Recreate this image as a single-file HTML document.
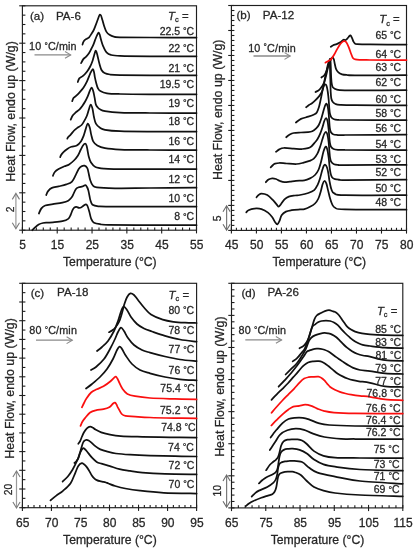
<!DOCTYPE html>
<html><head><meta charset="utf-8"><title>DSC</title>
<style>html,body{margin:0;padding:0;background:#fff;}svg{display:block;}</style>
</head><body>
<svg width="418" height="550" viewBox="0 0 418 550" font-family="Liberation Sans, Arial, sans-serif" fill="#262626">
<style>text{stroke:#262626;stroke-width:0.28px;paint-order:stroke}</style>
<rect width="418" height="550" fill="#ffffff"/>
<rect x="22.4" y="5.8" width="174.1" height="224.4" fill="none" stroke="#1e1e1e" stroke-width="1.15"/>
<line x1="22.4" y1="227.2" x2="22.4" y2="233.4" stroke="#1e1e1e" stroke-width="1.1"/>
<line x1="29.36" y1="227.6" x2="29.36" y2="230.2" stroke="#1e1e1e" stroke-width="1.1"/>
<line x1="36.33" y1="227.6" x2="36.33" y2="230.2" stroke="#1e1e1e" stroke-width="1.1"/>
<line x1="43.29" y1="227.6" x2="43.29" y2="230.2" stroke="#1e1e1e" stroke-width="1.1"/>
<line x1="50.26" y1="227.6" x2="50.26" y2="230.2" stroke="#1e1e1e" stroke-width="1.1"/>
<line x1="57.22" y1="227.2" x2="57.22" y2="233.4" stroke="#1e1e1e" stroke-width="1.1"/>
<line x1="64.18" y1="227.6" x2="64.18" y2="230.2" stroke="#1e1e1e" stroke-width="1.1"/>
<line x1="71.15" y1="227.6" x2="71.15" y2="230.2" stroke="#1e1e1e" stroke-width="1.1"/>
<line x1="78.11" y1="227.6" x2="78.11" y2="230.2" stroke="#1e1e1e" stroke-width="1.1"/>
<line x1="85.08" y1="227.6" x2="85.08" y2="230.2" stroke="#1e1e1e" stroke-width="1.1"/>
<line x1="92.04" y1="227.2" x2="92.04" y2="233.4" stroke="#1e1e1e" stroke-width="1.1"/>
<line x1="99" y1="227.6" x2="99" y2="230.2" stroke="#1e1e1e" stroke-width="1.1"/>
<line x1="105.97" y1="227.6" x2="105.97" y2="230.2" stroke="#1e1e1e" stroke-width="1.1"/>
<line x1="112.93" y1="227.6" x2="112.93" y2="230.2" stroke="#1e1e1e" stroke-width="1.1"/>
<line x1="119.9" y1="227.6" x2="119.9" y2="230.2" stroke="#1e1e1e" stroke-width="1.1"/>
<line x1="126.86" y1="227.2" x2="126.86" y2="233.4" stroke="#1e1e1e" stroke-width="1.1"/>
<line x1="133.82" y1="227.6" x2="133.82" y2="230.2" stroke="#1e1e1e" stroke-width="1.1"/>
<line x1="140.79" y1="227.6" x2="140.79" y2="230.2" stroke="#1e1e1e" stroke-width="1.1"/>
<line x1="147.75" y1="227.6" x2="147.75" y2="230.2" stroke="#1e1e1e" stroke-width="1.1"/>
<line x1="154.72" y1="227.6" x2="154.72" y2="230.2" stroke="#1e1e1e" stroke-width="1.1"/>
<line x1="161.68" y1="227.2" x2="161.68" y2="233.4" stroke="#1e1e1e" stroke-width="1.1"/>
<line x1="168.64" y1="227.6" x2="168.64" y2="230.2" stroke="#1e1e1e" stroke-width="1.1"/>
<line x1="175.61" y1="227.6" x2="175.61" y2="230.2" stroke="#1e1e1e" stroke-width="1.1"/>
<line x1="182.57" y1="227.6" x2="182.57" y2="230.2" stroke="#1e1e1e" stroke-width="1.1"/>
<line x1="189.54" y1="227.6" x2="189.54" y2="230.2" stroke="#1e1e1e" stroke-width="1.1"/>
<line x1="196.5" y1="227.2" x2="196.5" y2="233.4" stroke="#1e1e1e" stroke-width="1.1"/>
<text x="22.7" y="249.1" font-size="12" text-anchor="middle">5</text>
<text x="57.52" y="249.1" font-size="12" text-anchor="middle">15</text>
<text x="92.34" y="249.1" font-size="12" text-anchor="middle">25</text>
<text x="127.16" y="249.1" font-size="12" text-anchor="middle">35</text>
<text x="161.98" y="249.1" font-size="12" text-anchor="middle">45</text>
<text x="196.8" y="249.1" font-size="12" text-anchor="middle">55</text>
<line x1="19.2" y1="5.8" x2="25.4" y2="5.8" stroke="#1e1e1e" stroke-width="1.1"/>
<line x1="22.4" y1="15.15" x2="25.4" y2="15.15" stroke="#1e1e1e" stroke-width="1.1"/>
<line x1="22.4" y1="24.5" x2="25.4" y2="24.5" stroke="#1e1e1e" stroke-width="1.1"/>
<line x1="22.4" y1="33.85" x2="25.4" y2="33.85" stroke="#1e1e1e" stroke-width="1.1"/>
<line x1="19.2" y1="43.2" x2="25.4" y2="43.2" stroke="#1e1e1e" stroke-width="1.1"/>
<line x1="22.4" y1="52.55" x2="25.4" y2="52.55" stroke="#1e1e1e" stroke-width="1.1"/>
<line x1="22.4" y1="61.9" x2="25.4" y2="61.9" stroke="#1e1e1e" stroke-width="1.1"/>
<line x1="22.4" y1="71.25" x2="25.4" y2="71.25" stroke="#1e1e1e" stroke-width="1.1"/>
<line x1="19.2" y1="80.6" x2="25.4" y2="80.6" stroke="#1e1e1e" stroke-width="1.1"/>
<line x1="22.4" y1="89.95" x2="25.4" y2="89.95" stroke="#1e1e1e" stroke-width="1.1"/>
<line x1="22.4" y1="99.3" x2="25.4" y2="99.3" stroke="#1e1e1e" stroke-width="1.1"/>
<line x1="22.4" y1="108.65" x2="25.4" y2="108.65" stroke="#1e1e1e" stroke-width="1.1"/>
<line x1="19.2" y1="118" x2="25.4" y2="118" stroke="#1e1e1e" stroke-width="1.1"/>
<line x1="22.4" y1="127.35" x2="25.4" y2="127.35" stroke="#1e1e1e" stroke-width="1.1"/>
<line x1="22.4" y1="136.7" x2="25.4" y2="136.7" stroke="#1e1e1e" stroke-width="1.1"/>
<line x1="22.4" y1="146.05" x2="25.4" y2="146.05" stroke="#1e1e1e" stroke-width="1.1"/>
<line x1="19.2" y1="155.4" x2="25.4" y2="155.4" stroke="#1e1e1e" stroke-width="1.1"/>
<line x1="22.4" y1="164.75" x2="25.4" y2="164.75" stroke="#1e1e1e" stroke-width="1.1"/>
<line x1="22.4" y1="174.1" x2="25.4" y2="174.1" stroke="#1e1e1e" stroke-width="1.1"/>
<line x1="22.4" y1="183.45" x2="25.4" y2="183.45" stroke="#1e1e1e" stroke-width="1.1"/>
<line x1="19.2" y1="192.8" x2="25.4" y2="192.8" stroke="#1e1e1e" stroke-width="1.1"/>
<line x1="22.4" y1="202.15" x2="25.4" y2="202.15" stroke="#1e1e1e" stroke-width="1.1"/>
<line x1="22.4" y1="211.5" x2="25.4" y2="211.5" stroke="#1e1e1e" stroke-width="1.1"/>
<line x1="22.4" y1="220.85" x2="25.4" y2="220.85" stroke="#1e1e1e" stroke-width="1.1"/>
<line x1="19.2" y1="230.2" x2="25.4" y2="230.2" stroke="#1e1e1e" stroke-width="1.1"/>
<text x="109.85" y="266" font-size="12.2" text-anchor="middle">Temperature (°C)</text>
<text x="0" y="0" font-size="12.4" text-anchor="middle" transform="translate(15.3,111.4) rotate(-90)">Heat Flow, endo up (W/g)</text>
<line x1="15.9" y1="193.9" x2="15.9" y2="228.3" stroke="#9a9a9a" stroke-width="1.2"/>
<polyline points="12.3,199.4 15.9,193.4 19.5,199.4" fill="none" stroke="#7a7a7a" stroke-width="1.1"/>
<polyline points="12.3,222.8 15.9,228.8 19.5,222.8" fill="none" stroke="#7a7a7a" stroke-width="1.1"/>
<text x="0" y="0" font-size="10.3" text-anchor="middle" transform="translate(13.7,209.5) rotate(-90)">2</text>
<text x="29.9" y="20" font-size="11.6" text-anchor="start">(a)</text>
<text x="56" y="20" font-size="11.6" text-anchor="start">PA-6</text>
<text x="29" y="50" font-size="10.8" textLength="47.6">10 <tspan font-size="8.4" dy="-1.1">°</tspan><tspan dy="1.1">C/min</tspan></text>
<line x1="34.5" y1="54.9" x2="70.7" y2="54.9" stroke="#8a8a8a" stroke-width="1.3"/>
<polyline points="65,51.5 70.7,54.9 65,58.3" fill="none" stroke="#8a8a8a" stroke-width="1.1"/>
<text x="188.6" y="19.5" font-size="11.4" text-anchor="end"><tspan font-style="italic">T</tspan><tspan font-size="7.4" dy="2.4">c</tspan><tspan dy="-2.4"> =</tspan></text>
<rect x="231.4" y="5.5" width="175.1" height="224.9" fill="none" stroke="#1e1e1e" stroke-width="1.15"/>
<line x1="231.4" y1="227.4" x2="231.4" y2="233.6" stroke="#1e1e1e" stroke-width="1.1"/>
<line x1="236.4" y1="227.8" x2="236.4" y2="230.4" stroke="#1e1e1e" stroke-width="1.1"/>
<line x1="241.41" y1="227.8" x2="241.41" y2="230.4" stroke="#1e1e1e" stroke-width="1.1"/>
<line x1="246.41" y1="227.8" x2="246.41" y2="230.4" stroke="#1e1e1e" stroke-width="1.1"/>
<line x1="251.41" y1="227.8" x2="251.41" y2="230.4" stroke="#1e1e1e" stroke-width="1.1"/>
<line x1="256.41" y1="227.4" x2="256.41" y2="233.6" stroke="#1e1e1e" stroke-width="1.1"/>
<line x1="261.42" y1="227.8" x2="261.42" y2="230.4" stroke="#1e1e1e" stroke-width="1.1"/>
<line x1="266.42" y1="227.8" x2="266.42" y2="230.4" stroke="#1e1e1e" stroke-width="1.1"/>
<line x1="271.42" y1="227.8" x2="271.42" y2="230.4" stroke="#1e1e1e" stroke-width="1.1"/>
<line x1="276.43" y1="227.8" x2="276.43" y2="230.4" stroke="#1e1e1e" stroke-width="1.1"/>
<line x1="281.43" y1="227.4" x2="281.43" y2="233.6" stroke="#1e1e1e" stroke-width="1.1"/>
<line x1="286.43" y1="227.8" x2="286.43" y2="230.4" stroke="#1e1e1e" stroke-width="1.1"/>
<line x1="291.43" y1="227.8" x2="291.43" y2="230.4" stroke="#1e1e1e" stroke-width="1.1"/>
<line x1="296.44" y1="227.8" x2="296.44" y2="230.4" stroke="#1e1e1e" stroke-width="1.1"/>
<line x1="301.44" y1="227.8" x2="301.44" y2="230.4" stroke="#1e1e1e" stroke-width="1.1"/>
<line x1="306.44" y1="227.4" x2="306.44" y2="233.6" stroke="#1e1e1e" stroke-width="1.1"/>
<line x1="311.45" y1="227.8" x2="311.45" y2="230.4" stroke="#1e1e1e" stroke-width="1.1"/>
<line x1="316.45" y1="227.8" x2="316.45" y2="230.4" stroke="#1e1e1e" stroke-width="1.1"/>
<line x1="321.45" y1="227.8" x2="321.45" y2="230.4" stroke="#1e1e1e" stroke-width="1.1"/>
<line x1="326.45" y1="227.8" x2="326.45" y2="230.4" stroke="#1e1e1e" stroke-width="1.1"/>
<line x1="331.46" y1="227.4" x2="331.46" y2="233.6" stroke="#1e1e1e" stroke-width="1.1"/>
<line x1="336.46" y1="227.8" x2="336.46" y2="230.4" stroke="#1e1e1e" stroke-width="1.1"/>
<line x1="341.46" y1="227.8" x2="341.46" y2="230.4" stroke="#1e1e1e" stroke-width="1.1"/>
<line x1="346.47" y1="227.8" x2="346.47" y2="230.4" stroke="#1e1e1e" stroke-width="1.1"/>
<line x1="351.47" y1="227.8" x2="351.47" y2="230.4" stroke="#1e1e1e" stroke-width="1.1"/>
<line x1="356.47" y1="227.4" x2="356.47" y2="233.6" stroke="#1e1e1e" stroke-width="1.1"/>
<line x1="361.47" y1="227.8" x2="361.47" y2="230.4" stroke="#1e1e1e" stroke-width="1.1"/>
<line x1="366.48" y1="227.8" x2="366.48" y2="230.4" stroke="#1e1e1e" stroke-width="1.1"/>
<line x1="371.48" y1="227.8" x2="371.48" y2="230.4" stroke="#1e1e1e" stroke-width="1.1"/>
<line x1="376.48" y1="227.8" x2="376.48" y2="230.4" stroke="#1e1e1e" stroke-width="1.1"/>
<line x1="381.49" y1="227.4" x2="381.49" y2="233.6" stroke="#1e1e1e" stroke-width="1.1"/>
<line x1="386.49" y1="227.8" x2="386.49" y2="230.4" stroke="#1e1e1e" stroke-width="1.1"/>
<line x1="391.49" y1="227.8" x2="391.49" y2="230.4" stroke="#1e1e1e" stroke-width="1.1"/>
<line x1="396.49" y1="227.8" x2="396.49" y2="230.4" stroke="#1e1e1e" stroke-width="1.1"/>
<line x1="401.5" y1="227.8" x2="401.5" y2="230.4" stroke="#1e1e1e" stroke-width="1.1"/>
<line x1="406.5" y1="227.4" x2="406.5" y2="233.6" stroke="#1e1e1e" stroke-width="1.1"/>
<text x="231.7" y="249.3" font-size="12" text-anchor="middle">45</text>
<text x="256.71" y="249.3" font-size="12" text-anchor="middle">50</text>
<text x="281.73" y="249.3" font-size="12" text-anchor="middle">55</text>
<text x="306.74" y="249.3" font-size="12" text-anchor="middle">60</text>
<text x="331.76" y="249.3" font-size="12" text-anchor="middle">65</text>
<text x="356.77" y="249.3" font-size="12" text-anchor="middle">70</text>
<text x="381.79" y="249.3" font-size="12" text-anchor="middle">75</text>
<text x="406.8" y="249.3" font-size="12" text-anchor="middle">80</text>
<line x1="228.2" y1="5.5" x2="234.4" y2="5.5" stroke="#1e1e1e" stroke-width="1.1"/>
<line x1="231.4" y1="10.5" x2="234.4" y2="10.5" stroke="#1e1e1e" stroke-width="1.1"/>
<line x1="231.4" y1="15.5" x2="234.4" y2="15.5" stroke="#1e1e1e" stroke-width="1.1"/>
<line x1="231.4" y1="20.49" x2="234.4" y2="20.49" stroke="#1e1e1e" stroke-width="1.1"/>
<line x1="231.4" y1="25.49" x2="234.4" y2="25.49" stroke="#1e1e1e" stroke-width="1.1"/>
<line x1="228.2" y1="30.49" x2="234.4" y2="30.49" stroke="#1e1e1e" stroke-width="1.1"/>
<line x1="231.4" y1="35.49" x2="234.4" y2="35.49" stroke="#1e1e1e" stroke-width="1.1"/>
<line x1="231.4" y1="40.48" x2="234.4" y2="40.48" stroke="#1e1e1e" stroke-width="1.1"/>
<line x1="231.4" y1="45.48" x2="234.4" y2="45.48" stroke="#1e1e1e" stroke-width="1.1"/>
<line x1="231.4" y1="50.48" x2="234.4" y2="50.48" stroke="#1e1e1e" stroke-width="1.1"/>
<line x1="228.2" y1="55.48" x2="234.4" y2="55.48" stroke="#1e1e1e" stroke-width="1.1"/>
<line x1="231.4" y1="60.48" x2="234.4" y2="60.48" stroke="#1e1e1e" stroke-width="1.1"/>
<line x1="231.4" y1="65.47" x2="234.4" y2="65.47" stroke="#1e1e1e" stroke-width="1.1"/>
<line x1="231.4" y1="70.47" x2="234.4" y2="70.47" stroke="#1e1e1e" stroke-width="1.1"/>
<line x1="231.4" y1="75.47" x2="234.4" y2="75.47" stroke="#1e1e1e" stroke-width="1.1"/>
<line x1="228.2" y1="80.47" x2="234.4" y2="80.47" stroke="#1e1e1e" stroke-width="1.1"/>
<line x1="231.4" y1="85.46" x2="234.4" y2="85.46" stroke="#1e1e1e" stroke-width="1.1"/>
<line x1="231.4" y1="90.46" x2="234.4" y2="90.46" stroke="#1e1e1e" stroke-width="1.1"/>
<line x1="231.4" y1="95.46" x2="234.4" y2="95.46" stroke="#1e1e1e" stroke-width="1.1"/>
<line x1="231.4" y1="100.46" x2="234.4" y2="100.46" stroke="#1e1e1e" stroke-width="1.1"/>
<line x1="228.2" y1="105.46" x2="234.4" y2="105.46" stroke="#1e1e1e" stroke-width="1.1"/>
<line x1="231.4" y1="110.45" x2="234.4" y2="110.45" stroke="#1e1e1e" stroke-width="1.1"/>
<line x1="231.4" y1="115.45" x2="234.4" y2="115.45" stroke="#1e1e1e" stroke-width="1.1"/>
<line x1="231.4" y1="120.45" x2="234.4" y2="120.45" stroke="#1e1e1e" stroke-width="1.1"/>
<line x1="231.4" y1="125.45" x2="234.4" y2="125.45" stroke="#1e1e1e" stroke-width="1.1"/>
<line x1="228.2" y1="130.44" x2="234.4" y2="130.44" stroke="#1e1e1e" stroke-width="1.1"/>
<line x1="231.4" y1="135.44" x2="234.4" y2="135.44" stroke="#1e1e1e" stroke-width="1.1"/>
<line x1="231.4" y1="140.44" x2="234.4" y2="140.44" stroke="#1e1e1e" stroke-width="1.1"/>
<line x1="231.4" y1="145.44" x2="234.4" y2="145.44" stroke="#1e1e1e" stroke-width="1.1"/>
<line x1="231.4" y1="150.44" x2="234.4" y2="150.44" stroke="#1e1e1e" stroke-width="1.1"/>
<line x1="228.2" y1="155.43" x2="234.4" y2="155.43" stroke="#1e1e1e" stroke-width="1.1"/>
<line x1="231.4" y1="160.43" x2="234.4" y2="160.43" stroke="#1e1e1e" stroke-width="1.1"/>
<line x1="231.4" y1="165.43" x2="234.4" y2="165.43" stroke="#1e1e1e" stroke-width="1.1"/>
<line x1="231.4" y1="170.43" x2="234.4" y2="170.43" stroke="#1e1e1e" stroke-width="1.1"/>
<line x1="231.4" y1="175.42" x2="234.4" y2="175.42" stroke="#1e1e1e" stroke-width="1.1"/>
<line x1="228.2" y1="180.42" x2="234.4" y2="180.42" stroke="#1e1e1e" stroke-width="1.1"/>
<line x1="231.4" y1="185.42" x2="234.4" y2="185.42" stroke="#1e1e1e" stroke-width="1.1"/>
<line x1="231.4" y1="190.42" x2="234.4" y2="190.42" stroke="#1e1e1e" stroke-width="1.1"/>
<line x1="231.4" y1="195.42" x2="234.4" y2="195.42" stroke="#1e1e1e" stroke-width="1.1"/>
<line x1="231.4" y1="200.41" x2="234.4" y2="200.41" stroke="#1e1e1e" stroke-width="1.1"/>
<line x1="228.2" y1="205.41" x2="234.4" y2="205.41" stroke="#1e1e1e" stroke-width="1.1"/>
<line x1="231.4" y1="210.41" x2="234.4" y2="210.41" stroke="#1e1e1e" stroke-width="1.1"/>
<line x1="231.4" y1="215.41" x2="234.4" y2="215.41" stroke="#1e1e1e" stroke-width="1.1"/>
<line x1="231.4" y1="220.4" x2="234.4" y2="220.4" stroke="#1e1e1e" stroke-width="1.1"/>
<line x1="231.4" y1="225.4" x2="234.4" y2="225.4" stroke="#1e1e1e" stroke-width="1.1"/>
<line x1="228.2" y1="230.4" x2="234.4" y2="230.4" stroke="#1e1e1e" stroke-width="1.1"/>
<text x="319.35" y="266.2" font-size="12.2" text-anchor="middle">Temperature (°C)</text>
<text x="0" y="0" font-size="12.4" text-anchor="middle" transform="translate(221.8,109.8) rotate(-90)">Heat Flow, endo up (W/g)</text>
<line x1="226.6" y1="206.2" x2="226.6" y2="229.7" stroke="#7a7a7a" stroke-width="1.2"/>
<polyline points="223,211.7 226.6,205.7 230.2,211.7" fill="none" stroke="#6a6a6a" stroke-width="1.1"/>
<polyline points="223,224.2 226.6,230.2 230.2,224.2" fill="none" stroke="#6a6a6a" stroke-width="1.1"/>
<text x="0" y="0" font-size="10.3" text-anchor="middle" transform="translate(220.6,218.5) rotate(-90)">5</text>
<text x="236.4" y="19.4" font-size="11.6" text-anchor="start">(b)</text>
<text x="262.8" y="19.1" font-size="11.6" text-anchor="start">PA-12</text>
<text x="248.2" y="51.5" font-size="10.8" textLength="47.6">10 <tspan font-size="8.4" dy="-1.1">°</tspan><tspan dy="1.1">C/min</tspan></text>
<line x1="253.5" y1="56" x2="290.2" y2="56" stroke="#8a8a8a" stroke-width="1.3"/>
<polyline points="284.5,52.6 290.2,56 284.5,59.4" fill="none" stroke="#8a8a8a" stroke-width="1.1"/>
<text x="399.7" y="23.3" font-size="11.4" text-anchor="end"><tspan font-style="italic">T</tspan><tspan font-size="7.4" dy="2.4">c</tspan><tspan dy="-2.4"> =</tspan></text>
<rect x="22.4" y="283.3" width="174.2" height="224.4" fill="none" stroke="#1e1e1e" stroke-width="1.15"/>
<line x1="22.4" y1="504.7" x2="22.4" y2="510.9" stroke="#1e1e1e" stroke-width="1.1"/>
<line x1="28.21" y1="505.1" x2="28.21" y2="507.7" stroke="#1e1e1e" stroke-width="1.1"/>
<line x1="34.01" y1="505.1" x2="34.01" y2="507.7" stroke="#1e1e1e" stroke-width="1.1"/>
<line x1="39.82" y1="505.1" x2="39.82" y2="507.7" stroke="#1e1e1e" stroke-width="1.1"/>
<line x1="45.63" y1="505.1" x2="45.63" y2="507.7" stroke="#1e1e1e" stroke-width="1.1"/>
<line x1="51.43" y1="504.7" x2="51.43" y2="510.9" stroke="#1e1e1e" stroke-width="1.1"/>
<line x1="57.24" y1="505.1" x2="57.24" y2="507.7" stroke="#1e1e1e" stroke-width="1.1"/>
<line x1="63.05" y1="505.1" x2="63.05" y2="507.7" stroke="#1e1e1e" stroke-width="1.1"/>
<line x1="68.85" y1="505.1" x2="68.85" y2="507.7" stroke="#1e1e1e" stroke-width="1.1"/>
<line x1="74.66" y1="505.1" x2="74.66" y2="507.7" stroke="#1e1e1e" stroke-width="1.1"/>
<line x1="80.47" y1="504.7" x2="80.47" y2="510.9" stroke="#1e1e1e" stroke-width="1.1"/>
<line x1="86.27" y1="505.1" x2="86.27" y2="507.7" stroke="#1e1e1e" stroke-width="1.1"/>
<line x1="92.08" y1="505.1" x2="92.08" y2="507.7" stroke="#1e1e1e" stroke-width="1.1"/>
<line x1="97.89" y1="505.1" x2="97.89" y2="507.7" stroke="#1e1e1e" stroke-width="1.1"/>
<line x1="103.69" y1="505.1" x2="103.69" y2="507.7" stroke="#1e1e1e" stroke-width="1.1"/>
<line x1="109.5" y1="504.7" x2="109.5" y2="510.9" stroke="#1e1e1e" stroke-width="1.1"/>
<line x1="115.31" y1="505.1" x2="115.31" y2="507.7" stroke="#1e1e1e" stroke-width="1.1"/>
<line x1="121.11" y1="505.1" x2="121.11" y2="507.7" stroke="#1e1e1e" stroke-width="1.1"/>
<line x1="126.92" y1="505.1" x2="126.92" y2="507.7" stroke="#1e1e1e" stroke-width="1.1"/>
<line x1="132.73" y1="505.1" x2="132.73" y2="507.7" stroke="#1e1e1e" stroke-width="1.1"/>
<line x1="138.53" y1="504.7" x2="138.53" y2="510.9" stroke="#1e1e1e" stroke-width="1.1"/>
<line x1="144.34" y1="505.1" x2="144.34" y2="507.7" stroke="#1e1e1e" stroke-width="1.1"/>
<line x1="150.15" y1="505.1" x2="150.15" y2="507.7" stroke="#1e1e1e" stroke-width="1.1"/>
<line x1="155.95" y1="505.1" x2="155.95" y2="507.7" stroke="#1e1e1e" stroke-width="1.1"/>
<line x1="161.76" y1="505.1" x2="161.76" y2="507.7" stroke="#1e1e1e" stroke-width="1.1"/>
<line x1="167.57" y1="504.7" x2="167.57" y2="510.9" stroke="#1e1e1e" stroke-width="1.1"/>
<line x1="173.37" y1="505.1" x2="173.37" y2="507.7" stroke="#1e1e1e" stroke-width="1.1"/>
<line x1="179.18" y1="505.1" x2="179.18" y2="507.7" stroke="#1e1e1e" stroke-width="1.1"/>
<line x1="184.99" y1="505.1" x2="184.99" y2="507.7" stroke="#1e1e1e" stroke-width="1.1"/>
<line x1="190.79" y1="505.1" x2="190.79" y2="507.7" stroke="#1e1e1e" stroke-width="1.1"/>
<line x1="196.6" y1="504.7" x2="196.6" y2="510.9" stroke="#1e1e1e" stroke-width="1.1"/>
<text x="22.7" y="526.6" font-size="12" text-anchor="middle">65</text>
<text x="51.73" y="526.6" font-size="12" text-anchor="middle">70</text>
<text x="80.77" y="526.6" font-size="12" text-anchor="middle">75</text>
<text x="109.8" y="526.6" font-size="12" text-anchor="middle">80</text>
<text x="138.83" y="526.6" font-size="12" text-anchor="middle">85</text>
<text x="167.87" y="526.6" font-size="12" text-anchor="middle">90</text>
<text x="196.9" y="526.6" font-size="12" text-anchor="middle">95</text>
<line x1="19.2" y1="283.3" x2="25.4" y2="283.3" stroke="#1e1e1e" stroke-width="1.1"/>
<line x1="22.4" y1="292.65" x2="25.4" y2="292.65" stroke="#1e1e1e" stroke-width="1.1"/>
<line x1="19.2" y1="302" x2="25.4" y2="302" stroke="#1e1e1e" stroke-width="1.1"/>
<line x1="22.4" y1="311.35" x2="25.4" y2="311.35" stroke="#1e1e1e" stroke-width="1.1"/>
<line x1="19.2" y1="320.7" x2="25.4" y2="320.7" stroke="#1e1e1e" stroke-width="1.1"/>
<line x1="22.4" y1="330.05" x2="25.4" y2="330.05" stroke="#1e1e1e" stroke-width="1.1"/>
<line x1="19.2" y1="339.4" x2="25.4" y2="339.4" stroke="#1e1e1e" stroke-width="1.1"/>
<line x1="22.4" y1="348.75" x2="25.4" y2="348.75" stroke="#1e1e1e" stroke-width="1.1"/>
<line x1="19.2" y1="358.1" x2="25.4" y2="358.1" stroke="#1e1e1e" stroke-width="1.1"/>
<line x1="22.4" y1="367.45" x2="25.4" y2="367.45" stroke="#1e1e1e" stroke-width="1.1"/>
<line x1="19.2" y1="376.8" x2="25.4" y2="376.8" stroke="#1e1e1e" stroke-width="1.1"/>
<line x1="22.4" y1="386.15" x2="25.4" y2="386.15" stroke="#1e1e1e" stroke-width="1.1"/>
<line x1="19.2" y1="395.5" x2="25.4" y2="395.5" stroke="#1e1e1e" stroke-width="1.1"/>
<line x1="22.4" y1="404.85" x2="25.4" y2="404.85" stroke="#1e1e1e" stroke-width="1.1"/>
<line x1="19.2" y1="414.2" x2="25.4" y2="414.2" stroke="#1e1e1e" stroke-width="1.1"/>
<line x1="22.4" y1="423.55" x2="25.4" y2="423.55" stroke="#1e1e1e" stroke-width="1.1"/>
<line x1="19.2" y1="432.9" x2="25.4" y2="432.9" stroke="#1e1e1e" stroke-width="1.1"/>
<line x1="22.4" y1="442.25" x2="25.4" y2="442.25" stroke="#1e1e1e" stroke-width="1.1"/>
<line x1="19.2" y1="451.6" x2="25.4" y2="451.6" stroke="#1e1e1e" stroke-width="1.1"/>
<line x1="22.4" y1="460.95" x2="25.4" y2="460.95" stroke="#1e1e1e" stroke-width="1.1"/>
<line x1="19.2" y1="470.3" x2="25.4" y2="470.3" stroke="#1e1e1e" stroke-width="1.1"/>
<line x1="22.4" y1="479.65" x2="25.4" y2="479.65" stroke="#1e1e1e" stroke-width="1.1"/>
<line x1="19.2" y1="489" x2="25.4" y2="489" stroke="#1e1e1e" stroke-width="1.1"/>
<line x1="22.4" y1="498.35" x2="25.4" y2="498.35" stroke="#1e1e1e" stroke-width="1.1"/>
<line x1="19.2" y1="507.7" x2="25.4" y2="507.7" stroke="#1e1e1e" stroke-width="1.1"/>
<text x="109.9" y="543.5" font-size="12.2" text-anchor="middle">Temperature (°C)</text>
<text x="0" y="0" font-size="12.4" text-anchor="middle" transform="translate(14.3,388.4) rotate(-90)">Heat Flow, endo up (W/g)</text>
<line x1="16.5" y1="471.5" x2="16.5" y2="507.5" stroke="#9a9a9a" stroke-width="1.2"/>
<polyline points="12.9,477 16.5,471 20.1,477" fill="none" stroke="#7a7a7a" stroke-width="1.1"/>
<polyline points="12.9,502 16.5,508 20.1,502" fill="none" stroke="#7a7a7a" stroke-width="1.1"/>
<text x="0" y="0" font-size="10.3" text-anchor="middle" transform="translate(11.9,489.5) rotate(-90)">20</text>
<text x="30.7" y="296.5" font-size="11.6" text-anchor="start">(c)</text>
<text x="57.1" y="296.3" font-size="11.6" text-anchor="start">PA-18</text>
<text x="29.3" y="334.3" font-size="10.8" textLength="47.6">80 <tspan font-size="8.4" dy="-1.1">°</tspan><tspan dy="1.1">C/min</tspan></text>
<line x1="36" y1="340.2" x2="72.3" y2="340.2" stroke="#8a8a8a" stroke-width="1.3"/>
<polyline points="66.6,336.8 72.3,340.2 66.6,343.6" fill="none" stroke="#8a8a8a" stroke-width="1.1"/>
<text x="189.1" y="298.8" font-size="11.4" text-anchor="end"><tspan font-style="italic">T</tspan><tspan font-size="7.4" dy="2.4">c</tspan><tspan dy="-2.4"> =</tspan></text>
<rect x="231.5" y="283.3" width="171.3" height="224.6" fill="none" stroke="#1e1e1e" stroke-width="1.15"/>
<line x1="231.5" y1="504.9" x2="231.5" y2="511.1" stroke="#1e1e1e" stroke-width="1.1"/>
<line x1="238.35" y1="505.3" x2="238.35" y2="507.9" stroke="#1e1e1e" stroke-width="1.1"/>
<line x1="245.2" y1="505.3" x2="245.2" y2="507.9" stroke="#1e1e1e" stroke-width="1.1"/>
<line x1="252.06" y1="505.3" x2="252.06" y2="507.9" stroke="#1e1e1e" stroke-width="1.1"/>
<line x1="258.91" y1="505.3" x2="258.91" y2="507.9" stroke="#1e1e1e" stroke-width="1.1"/>
<line x1="265.76" y1="504.9" x2="265.76" y2="511.1" stroke="#1e1e1e" stroke-width="1.1"/>
<line x1="272.61" y1="505.3" x2="272.61" y2="507.9" stroke="#1e1e1e" stroke-width="1.1"/>
<line x1="279.46" y1="505.3" x2="279.46" y2="507.9" stroke="#1e1e1e" stroke-width="1.1"/>
<line x1="286.32" y1="505.3" x2="286.32" y2="507.9" stroke="#1e1e1e" stroke-width="1.1"/>
<line x1="293.17" y1="505.3" x2="293.17" y2="507.9" stroke="#1e1e1e" stroke-width="1.1"/>
<line x1="300.02" y1="504.9" x2="300.02" y2="511.1" stroke="#1e1e1e" stroke-width="1.1"/>
<line x1="306.87" y1="505.3" x2="306.87" y2="507.9" stroke="#1e1e1e" stroke-width="1.1"/>
<line x1="313.72" y1="505.3" x2="313.72" y2="507.9" stroke="#1e1e1e" stroke-width="1.1"/>
<line x1="320.58" y1="505.3" x2="320.58" y2="507.9" stroke="#1e1e1e" stroke-width="1.1"/>
<line x1="327.43" y1="505.3" x2="327.43" y2="507.9" stroke="#1e1e1e" stroke-width="1.1"/>
<line x1="334.28" y1="504.9" x2="334.28" y2="511.1" stroke="#1e1e1e" stroke-width="1.1"/>
<line x1="341.13" y1="505.3" x2="341.13" y2="507.9" stroke="#1e1e1e" stroke-width="1.1"/>
<line x1="347.98" y1="505.3" x2="347.98" y2="507.9" stroke="#1e1e1e" stroke-width="1.1"/>
<line x1="354.84" y1="505.3" x2="354.84" y2="507.9" stroke="#1e1e1e" stroke-width="1.1"/>
<line x1="361.69" y1="505.3" x2="361.69" y2="507.9" stroke="#1e1e1e" stroke-width="1.1"/>
<line x1="368.54" y1="504.9" x2="368.54" y2="511.1" stroke="#1e1e1e" stroke-width="1.1"/>
<line x1="375.39" y1="505.3" x2="375.39" y2="507.9" stroke="#1e1e1e" stroke-width="1.1"/>
<line x1="382.24" y1="505.3" x2="382.24" y2="507.9" stroke="#1e1e1e" stroke-width="1.1"/>
<line x1="389.1" y1="505.3" x2="389.1" y2="507.9" stroke="#1e1e1e" stroke-width="1.1"/>
<line x1="395.95" y1="505.3" x2="395.95" y2="507.9" stroke="#1e1e1e" stroke-width="1.1"/>
<line x1="402.8" y1="504.9" x2="402.8" y2="511.1" stroke="#1e1e1e" stroke-width="1.1"/>
<text x="231.8" y="526.8" font-size="12" text-anchor="middle">65</text>
<text x="266.06" y="526.8" font-size="12" text-anchor="middle">75</text>
<text x="300.32" y="526.8" font-size="12" text-anchor="middle">85</text>
<text x="334.58" y="526.8" font-size="12" text-anchor="middle">95</text>
<text x="368.84" y="526.8" font-size="12" text-anchor="middle">105</text>
<text x="403.1" y="526.8" font-size="12" text-anchor="middle">115</text>
<line x1="228.3" y1="283.3" x2="234.5" y2="283.3" stroke="#1e1e1e" stroke-width="1.1"/>
<line x1="231.5" y1="289.72" x2="234.5" y2="289.72" stroke="#1e1e1e" stroke-width="1.1"/>
<line x1="231.5" y1="296.13" x2="234.5" y2="296.13" stroke="#1e1e1e" stroke-width="1.1"/>
<line x1="231.5" y1="302.55" x2="234.5" y2="302.55" stroke="#1e1e1e" stroke-width="1.1"/>
<line x1="231.5" y1="308.97" x2="234.5" y2="308.97" stroke="#1e1e1e" stroke-width="1.1"/>
<line x1="228.3" y1="315.39" x2="234.5" y2="315.39" stroke="#1e1e1e" stroke-width="1.1"/>
<line x1="231.5" y1="321.8" x2="234.5" y2="321.8" stroke="#1e1e1e" stroke-width="1.1"/>
<line x1="231.5" y1="328.22" x2="234.5" y2="328.22" stroke="#1e1e1e" stroke-width="1.1"/>
<line x1="231.5" y1="334.64" x2="234.5" y2="334.64" stroke="#1e1e1e" stroke-width="1.1"/>
<line x1="231.5" y1="341.05" x2="234.5" y2="341.05" stroke="#1e1e1e" stroke-width="1.1"/>
<line x1="228.3" y1="347.47" x2="234.5" y2="347.47" stroke="#1e1e1e" stroke-width="1.1"/>
<line x1="231.5" y1="353.89" x2="234.5" y2="353.89" stroke="#1e1e1e" stroke-width="1.1"/>
<line x1="231.5" y1="360.31" x2="234.5" y2="360.31" stroke="#1e1e1e" stroke-width="1.1"/>
<line x1="231.5" y1="366.72" x2="234.5" y2="366.72" stroke="#1e1e1e" stroke-width="1.1"/>
<line x1="231.5" y1="373.14" x2="234.5" y2="373.14" stroke="#1e1e1e" stroke-width="1.1"/>
<line x1="228.3" y1="379.56" x2="234.5" y2="379.56" stroke="#1e1e1e" stroke-width="1.1"/>
<line x1="231.5" y1="385.97" x2="234.5" y2="385.97" stroke="#1e1e1e" stroke-width="1.1"/>
<line x1="231.5" y1="392.39" x2="234.5" y2="392.39" stroke="#1e1e1e" stroke-width="1.1"/>
<line x1="231.5" y1="398.81" x2="234.5" y2="398.81" stroke="#1e1e1e" stroke-width="1.1"/>
<line x1="231.5" y1="405.23" x2="234.5" y2="405.23" stroke="#1e1e1e" stroke-width="1.1"/>
<line x1="228.3" y1="411.64" x2="234.5" y2="411.64" stroke="#1e1e1e" stroke-width="1.1"/>
<line x1="231.5" y1="418.06" x2="234.5" y2="418.06" stroke="#1e1e1e" stroke-width="1.1"/>
<line x1="231.5" y1="424.48" x2="234.5" y2="424.48" stroke="#1e1e1e" stroke-width="1.1"/>
<line x1="231.5" y1="430.89" x2="234.5" y2="430.89" stroke="#1e1e1e" stroke-width="1.1"/>
<line x1="231.5" y1="437.31" x2="234.5" y2="437.31" stroke="#1e1e1e" stroke-width="1.1"/>
<line x1="228.3" y1="443.73" x2="234.5" y2="443.73" stroke="#1e1e1e" stroke-width="1.1"/>
<line x1="231.5" y1="450.15" x2="234.5" y2="450.15" stroke="#1e1e1e" stroke-width="1.1"/>
<line x1="231.5" y1="456.56" x2="234.5" y2="456.56" stroke="#1e1e1e" stroke-width="1.1"/>
<line x1="231.5" y1="462.98" x2="234.5" y2="462.98" stroke="#1e1e1e" stroke-width="1.1"/>
<line x1="231.5" y1="469.4" x2="234.5" y2="469.4" stroke="#1e1e1e" stroke-width="1.1"/>
<line x1="228.3" y1="475.81" x2="234.5" y2="475.81" stroke="#1e1e1e" stroke-width="1.1"/>
<line x1="231.5" y1="482.23" x2="234.5" y2="482.23" stroke="#1e1e1e" stroke-width="1.1"/>
<line x1="231.5" y1="488.65" x2="234.5" y2="488.65" stroke="#1e1e1e" stroke-width="1.1"/>
<line x1="231.5" y1="495.07" x2="234.5" y2="495.07" stroke="#1e1e1e" stroke-width="1.1"/>
<line x1="231.5" y1="501.48" x2="234.5" y2="501.48" stroke="#1e1e1e" stroke-width="1.1"/>
<line x1="228.3" y1="507.9" x2="234.5" y2="507.9" stroke="#1e1e1e" stroke-width="1.1"/>
<text x="317.55" y="543.7" font-size="12.2" text-anchor="middle">Temperature (°C)</text>
<text x="0" y="0" font-size="12.4" text-anchor="middle" transform="translate(224.1,386.6) rotate(-90)">Heat Flow, endo up (W/g)</text>
<line x1="226.6" y1="475.5" x2="226.6" y2="506.7" stroke="#7a7a7a" stroke-width="1.2"/>
<polyline points="223,481 226.6,475 230.2,481" fill="none" stroke="#6a6a6a" stroke-width="1.1"/>
<polyline points="223,501.2 226.6,507.2 230.2,501.2" fill="none" stroke="#6a6a6a" stroke-width="1.1"/>
<text x="0" y="0" font-size="10.3" text-anchor="middle" transform="translate(220.6,490.8) rotate(-90)">10</text>
<text x="241.4" y="296.8" font-size="11.6" text-anchor="start">(d)</text>
<text x="267.6" y="296.3" font-size="11.6" text-anchor="start">PA-26</text>
<text x="238.5" y="334.4" font-size="10.8" textLength="47.6">80 <tspan font-size="8.4" dy="-1.1">°</tspan><tspan dy="1.1">C/min</tspan></text>
<line x1="245.3" y1="339.9" x2="281.6" y2="339.9" stroke="#8a8a8a" stroke-width="1.3"/>
<polyline points="275.9,336.5 281.6,339.9 275.9,343.3" fill="none" stroke="#8a8a8a" stroke-width="1.1"/>
<text x="397.4" y="314.9" font-size="11.4" text-anchor="end"><tspan font-style="italic">T</tspan><tspan font-size="7.4" dy="2.4">c</tspan><tspan dy="-2.4"> =</tspan></text>
<path d="M82.5,44.6 C82.63,44.18 82.93,42.83 83.3,42.1 C83.67,41.37 84.1,40.77 84.7,40.2 C85.3,39.63 86.17,39.18 86.9,38.7 C87.63,38.22 88.37,38.07 89.1,37.3 C89.83,36.53 90.57,35.23 91.3,34.1 C92.03,32.97 92.78,31.95 93.5,30.5 C94.22,29.05 94.88,27.23 95.6,25.4 C96.32,23.57 97.18,21.15 97.8,19.5 C98.42,17.85 98.93,16.33 99.3,15.5 C99.67,14.67 99.72,14.5 100,14.5 C100.28,14.5 100.58,14.53 101,15.5 C101.42,16.47 101.93,18.42 102.5,20.3 C103.07,22.18 103.73,24.87 104.4,26.8 C105.07,28.73 105.65,30.57 106.5,31.9 C107.35,33.23 108.28,34 109.5,34.8 C110.72,35.6 112.05,36.28 113.8,36.7 C115.55,37.12 113.97,37.17 120,37.3 C126.03,37.43 137.25,37.47 150,37.5 C162.75,37.53 188.75,37.5 196.5,37.5" fill="none" stroke="#111111" stroke-width="1.75" stroke-linejoin="round" stroke-linecap="round"/>
<path d="M81.1,63.2 C81.47,62.52 82.45,60.2 83.3,59.1 C84.15,58 85.23,57.62 86.2,56.6 C87.17,55.58 88.22,54.35 89.1,53 C89.98,51.65 90.77,49.95 91.5,48.5 C92.23,47.05 92.83,45.88 93.5,44.3 C94.17,42.72 94.9,40.52 95.5,39 C96.1,37.48 96.6,36.27 97.1,35.2 C97.6,34.13 98.07,32.72 98.5,32.6 C98.93,32.48 99.33,33.52 99.7,34.5 C100.07,35.48 100.32,37.08 100.7,38.5 C101.08,39.92 101.52,41.55 102,43 C102.48,44.45 102.85,45.65 103.6,47.2 C104.35,48.75 105.28,51.02 106.5,52.3 C107.72,53.58 108.65,54.3 110.9,54.9 C113.15,55.5 113.48,55.67 120,55.9 C126.52,56.13 137.25,56.23 150,56.3 C162.75,56.37 188.75,56.3 196.5,56.3" fill="none" stroke="#111111" stroke-width="1.75" stroke-linejoin="round" stroke-linecap="round"/>
<path d="M77.8,82 C78.05,81.4 78.48,79.37 79.3,78.4 C80.12,77.43 81.43,77.32 82.7,76.2 C83.97,75.08 85.65,73.32 86.9,71.7 C88.15,70.08 89.27,68.28 90.2,66.5 C91.13,64.72 91.83,62.92 92.5,61 C93.17,59.08 93.68,56.7 94.2,55 C94.72,53.3 95.17,51.13 95.6,50.8 C96.03,50.47 96.43,51.97 96.8,53 C97.17,54.03 97.35,55.17 97.8,57 C98.25,58.83 98.88,61.83 99.5,64 C100.12,66.17 100.67,68.5 101.5,70 C102.33,71.5 103.08,72.25 104.5,73 C105.92,73.75 107.42,74.15 110,74.5 C112.58,74.85 113.33,74.97 120,75.1 C126.67,75.23 137.25,75.27 150,75.3 C162.75,75.33 188.75,75.3 196.5,75.3" fill="none" stroke="#111111" stroke-width="1.75" stroke-linejoin="round" stroke-linecap="round"/>
<path d="M72.2,101.1 C72.42,100.58 72.95,98.78 73.5,98 C74.05,97.22 74.48,97.35 75.5,96.4 C76.52,95.45 78.25,93.78 79.6,92.3 C80.95,90.82 82.37,89.32 83.6,87.5 C84.83,85.68 85.9,83.72 87,81.4 C88.1,79.08 89.25,75.63 90.2,73.6 C91.15,71.57 92.07,69.47 92.7,69.2 C93.33,68.93 93.65,70.73 94,72 C94.35,73.27 94.43,74.97 94.8,76.8 C95.17,78.63 95.7,81.13 96.2,83 C96.7,84.87 97.12,86.67 97.8,88 C98.48,89.33 98.77,90.12 100.3,91 C101.83,91.88 103.72,92.8 107,93.3 C110.28,93.8 112.83,93.83 120,94 C127.17,94.17 137.25,94.25 150,94.3 C162.75,94.35 188.75,94.3 196.5,94.3" fill="none" stroke="#111111" stroke-width="1.75" stroke-linejoin="round" stroke-linecap="round"/>
<path d="M70.7,119.6 C71.03,118.92 71.9,116.65 72.7,115.5 C73.5,114.35 74.35,113.73 75.5,112.7 C76.65,111.67 78.47,110.43 79.6,109.3 C80.73,108.17 81.4,107.15 82.3,105.9 C83.2,104.65 84.1,103.38 85,101.8 C85.9,100.22 86.9,98.22 87.7,96.4 C88.5,94.58 89.15,92.38 89.8,90.9 C90.45,89.42 91.03,87.5 91.6,87.5 C92.17,87.5 92.7,89.2 93.2,90.9 C93.7,92.6 94.15,95.42 94.6,97.7 C95.05,99.98 95.33,102.92 95.9,104.6 C96.47,106.28 97.32,107.02 98,107.8 C98.68,108.58 98.83,108.75 100,109.3 C101.17,109.85 101.67,110.55 105,111.1 C108.33,111.65 112.5,112.28 120,112.6 C127.5,112.92 137.25,112.93 150,113 C162.75,113.07 188.75,113 196.5,113" fill="none" stroke="#111111" stroke-width="1.75" stroke-linejoin="round" stroke-linecap="round"/>
<path d="M67.3,138.7 C67.42,138.47 67.43,137.98 68,137.3 C68.57,136.62 69.68,135.73 70.7,134.6 C71.72,133.47 72.97,131.65 74.1,130.5 C75.23,129.35 76.25,128.62 77.5,127.7 C78.75,126.78 80.47,126.13 81.6,125 C82.73,123.87 83.4,122.48 84.3,120.9 C85.2,119.32 86.2,117.53 87,115.5 C87.8,113.47 88.48,110.52 89.1,108.7 C89.72,106.88 90.13,104.6 90.7,104.6 C91.27,104.6 91.97,106.67 92.5,108.7 C93.03,110.73 93.33,114.32 93.9,116.8 C94.47,119.28 94.88,121.78 95.9,123.6 C96.92,125.42 98.48,126.67 100,127.7 C101.52,128.73 101.67,129.22 105,129.8 C108.33,130.38 112.5,130.9 120,131.2 C127.5,131.5 137.25,131.53 150,131.6 C162.75,131.67 188.75,131.6 196.5,131.6" fill="none" stroke="#111111" stroke-width="1.75" stroke-linejoin="round" stroke-linecap="round"/>
<path d="M60.2,157.2 C60.35,156.83 60.6,155.82 61.1,155 C61.6,154.18 62.17,153.32 63.2,152.3 C64.23,151.28 65.93,149.82 67.3,148.9 C68.67,147.98 69.82,147.37 71.4,146.8 C72.98,146.23 75.22,146.4 76.8,145.5 C78.38,144.6 79.77,143 80.9,141.4 C82.03,139.8 82.8,137.95 83.6,135.9 C84.4,133.85 85.02,131.15 85.7,129.1 C86.38,127.05 87.02,123.83 87.7,123.6 C88.38,123.37 89.22,125.87 89.8,127.7 C90.38,129.53 90.63,132.32 91.2,134.6 C91.77,136.88 92.18,139.58 93.2,141.4 C94.22,143.22 95.33,144.37 97.3,145.5 C99.27,146.63 101.22,147.52 105,148.2 C108.78,148.88 112.5,149.3 120,149.6 C127.5,149.9 137.25,149.93 150,150 C162.75,150.07 188.75,150 196.5,150" fill="none" stroke="#111111" stroke-width="1.75" stroke-linejoin="round" stroke-linecap="round"/>
<path d="M52.9,175.8 C53.22,175.17 53.85,173.12 54.8,172 C55.75,170.88 57,170.05 58.6,169.1 C60.2,168.15 62.65,167.08 64.4,166.3 C66.15,165.52 67.52,165.37 69.1,164.4 C70.68,163.43 72.45,161.95 73.9,160.5 C75.35,159.05 76.68,157.45 77.8,155.7 C78.92,153.95 79.73,151.7 80.6,150 C81.47,148.3 82.23,146.55 83,145.5 C83.77,144.45 84.62,143.7 85.2,143.7 C85.78,143.7 86.13,144.53 86.5,145.5 C86.87,146.47 87.02,147.62 87.4,149.5 C87.78,151.38 88.2,154.62 88.8,156.8 C89.4,158.98 89.9,160.9 91,162.6 C92.1,164.3 93.22,165.98 95.4,167 C97.58,168.02 100.83,168.35 104.1,168.7 C107.37,169.05 107.35,169.03 115,169.1 C122.65,169.17 136.42,169.1 150,169.1 C163.58,169.1 188.75,169.1 196.5,169.1" fill="none" stroke="#111111" stroke-width="1.75" stroke-linejoin="round" stroke-linecap="round"/>
<path d="M46.2,195 C46.52,194.35 47.15,192.28 48.1,191.1 C49.05,189.92 50.15,188.68 51.9,187.9 C53.65,187.12 56.2,186.98 58.6,186.4 C61,185.82 64.07,185.2 66.3,184.4 C68.53,183.6 70.42,183.18 72,181.6 C73.58,180.02 74.68,176.98 75.8,174.9 C76.92,172.82 77.73,170.53 78.7,169.1 C79.67,167.67 80.63,166.88 81.6,166.3 C82.57,165.72 83.55,165.28 84.5,165.6 C85.45,165.92 86.58,166.8 87.3,168.2 C88.02,169.6 88.32,172.03 88.8,174 C89.28,175.97 89.58,178.17 90.2,180 C90.82,181.83 91.4,183.77 92.5,185 C93.6,186.23 93.05,186.85 96.8,187.4 C100.55,187.95 106.13,188.2 115,188.3 C123.87,188.4 136.42,188.1 150,188 C163.58,187.9 188.75,187.75 196.5,187.7" fill="none" stroke="#111111" stroke-width="1.75" stroke-linejoin="round" stroke-linecap="round"/>
<path d="M38.9,213.5 C39.32,212.65 40.35,209.73 41.4,208.4 C42.45,207.07 43.28,206.2 45.2,205.5 C47.12,204.8 50.03,204.68 52.9,204.2 C55.77,203.72 59.85,203.18 62.4,202.6 C64.95,202.02 66.68,201.55 68.2,200.7 C69.72,199.85 70.7,198.45 71.5,197.5 C72.3,196.55 72.28,196.38 73,195 C73.72,193.62 74.85,190.48 75.8,189.2 C76.75,187.92 77.58,187.77 78.7,187.3 C79.82,186.83 81.38,186.77 82.5,186.4 C83.62,186.03 84.65,185 85.4,185.1 C86.15,185.2 86.52,186.15 87,187 C87.48,187.85 87.88,188.7 88.3,190.2 C88.72,191.7 89.13,194.28 89.5,196 C89.87,197.72 90,199.03 90.5,200.5 C91,201.97 91.2,203.83 92.5,204.8 C93.8,205.77 94.55,206 98.3,206.3 C102.05,206.6 98.63,206.55 115,206.6 C131.37,206.65 182.92,206.6 196.5,206.6" fill="none" stroke="#111111" stroke-width="1.75" stroke-linejoin="round" stroke-linecap="round"/>
<path d="M32.3,230.2 C32.75,229.73 33.93,228.35 35,227.4 C36.07,226.45 37.37,225.23 38.7,224.5 C40.03,223.77 41.53,223.32 43,223 C44.47,222.68 45.85,222.72 47.5,222.6 C49.15,222.48 50.42,222.53 52.9,222.3 C55.38,222.07 59.85,221.77 62.4,221.2 C64.95,220.63 66.83,219.93 68.2,218.9 C69.57,217.87 69.9,216.43 70.6,215 C71.3,213.57 71.8,211.52 72.4,210.3 C73,209.08 73.55,208.27 74.2,207.7 C74.85,207.13 75.48,206.87 76.3,206.9 C77.12,206.93 78.23,207.83 79.1,207.9 C79.97,207.97 80.77,207.67 81.5,207.3 C82.23,206.93 82.75,206.2 83.5,205.7 C84.25,205.2 85.33,204.25 86,204.3 C86.67,204.35 86.97,204.85 87.5,206 C88.03,207.15 88.58,209.05 89.2,211.2 C89.82,213.35 90.4,216.98 91.2,218.9 C92,220.82 92.42,221.8 94,222.7 C95.58,223.6 98.37,223.95 100.7,224.3 C103.03,224.65 99.78,224.65 108,224.8 C116.22,224.95 135.25,225.13 150,225.2 C164.75,225.27 188.75,225.2 196.5,225.2" fill="none" stroke="#111111" stroke-width="1.75" stroke-linejoin="round" stroke-linecap="round"/>
<path d="M330.8,46.8 C331.2,46.55 332.22,45.75 333.2,45.3 C334.18,44.85 335.52,44.6 336.7,44.1 C337.88,43.6 339.32,42.92 340.3,42.3 C341.28,41.68 341.98,40.83 342.6,40.4 C343.22,39.97 343.52,39.73 344,39.7 C344.48,39.67 345,40.32 345.5,40.2 C346,40.08 346.48,39.53 347,39 C347.52,38.47 348.02,37.62 348.6,37 C349.18,36.38 349.92,35.1 350.5,35.3 C351.08,35.5 351.6,37.13 352.1,38.2 C352.6,39.27 353.03,40.82 353.5,41.7 C353.97,42.58 354.3,43.1 354.9,43.5 C355.5,43.9 354.58,43.95 357.1,44.1 C359.62,44.25 361.77,44.32 370,44.4 C378.23,44.48 400.42,44.57 406.5,44.6" fill="none" stroke="#111111" stroke-width="1.75" stroke-linejoin="round" stroke-linecap="round"/>
<path d="M321.4,77.5 C321.88,77.13 323.45,76.38 324.3,75.3 C325.15,74.22 325.8,72.72 326.5,71 C327.2,69.28 327.83,66.75 328.5,65 C329.17,63.25 329.98,61.63 330.5,60.5 C331.02,59.37 331.2,58.72 331.6,58.2 C332,57.68 332.52,57.18 332.9,57.4 C333.28,57.62 333.58,58.4 333.9,59.5 C334.22,60.6 334.45,62.45 334.8,64 C335.15,65.55 335.4,67.4 336,68.8 C336.6,70.2 337.4,71.48 338.4,72.4 C339.4,73.32 340.57,73.87 342,74.3 C343.43,74.73 344.83,74.83 347,75 C349.17,75.17 345.08,75.27 355,75.3 C364.92,75.33 397.92,75.22 406.5,75.2" fill="none" stroke="#111111" stroke-width="1.75" stroke-linejoin="round" stroke-linecap="round"/>
<path d="M315.5,92 C316.12,91.63 318.1,90.77 319.2,89.8 C320.3,88.83 321.25,87.5 322.1,86.2 C322.95,84.9 323.57,84.03 324.3,82 C325.03,79.97 325.8,76.83 326.5,74 C327.2,71.17 327.92,67.53 328.5,65 C329.08,62.47 329.65,59.3 330,58.8 C330.35,58.3 330.45,60.13 330.6,62 C330.75,63.87 330.8,67.33 330.9,70 C331,72.67 331.05,75.67 331.2,78 C331.35,80.33 331.5,82.42 331.8,84 C332.1,85.58 332.15,86.57 333,87.5 C333.85,88.43 334.9,89.13 336.9,89.6 C338.9,90.07 341.98,90.18 345,90.3 C348.02,90.42 344.75,90.32 355,90.3 C365.25,90.28 397.92,90.22 406.5,90.2" fill="none" stroke="#111111" stroke-width="1.75" stroke-linejoin="round" stroke-linecap="round"/>
<path d="M306.1,107.3 C306.58,106.92 308.02,105.67 309,105 C309.98,104.33 310.92,104.1 312,103.3 C313.08,102.5 314.27,101.43 315.5,100.2 C316.73,98.97 318.38,97.18 319.4,95.9 C320.42,94.62 321.03,93.65 321.6,92.5 C322.17,91.35 322.43,90.28 322.8,89 C323.17,87.72 323.43,86.63 323.8,84.8 C324.17,82.97 324.55,80.3 325,78 C325.45,75.7 326.03,73.17 326.5,71 C326.97,68.83 327.35,66.7 327.8,65 C328.25,63.3 328.87,60.97 329.2,60.8 C329.53,60.63 329.65,62.13 329.8,64 C329.95,65.87 330,69 330.1,72 C330.2,75 330.3,78.67 330.4,82 C330.5,85.33 330.55,89.25 330.7,92 C330.85,94.75 330.95,96.83 331.3,98.5 C331.65,100.17 332.1,101.08 332.8,102 C333.5,102.92 334.3,103.53 335.5,104 C336.7,104.47 336.75,104.6 340,104.8 C343.25,105 343.92,105.1 355,105.2 C366.08,105.3 397.92,105.37 406.5,105.4" fill="none" stroke="#111111" stroke-width="1.75" stroke-linejoin="round" stroke-linecap="round"/>
<path d="M295.9,122.5 C296.75,121.9 298.93,119.87 301,118.9 C303.07,117.93 306.12,117.43 308.3,116.7 C310.48,115.97 312.68,115.2 314.1,114.5 C315.52,113.8 316.02,113.65 316.8,112.5 C317.58,111.35 318.27,109.23 318.8,107.6 C319.33,105.97 319.58,104.55 320,102.7 C320.42,100.85 320.88,98.53 321.3,96.5 C321.72,94.47 322.08,92.25 322.5,90.5 C322.92,88.75 323.33,87.03 323.8,86 C324.27,84.97 324.83,84.3 325.3,84.3 C325.77,84.3 326.18,84.72 326.6,86 C327.02,87.28 327.45,89.67 327.8,92 C328.15,94.33 328.45,97.33 328.7,100 C328.95,102.67 329.1,105.75 329.3,108 C329.5,110.25 329.57,111.95 329.9,113.5 C330.23,115.05 330.62,116.35 331.3,117.3 C331.98,118.25 332.88,118.78 334,119.2 C335.12,119.62 336.17,119.67 338,119.8 C339.83,119.93 333.58,119.93 345,120 C356.42,120.07 396.25,120.17 406.5,120.2" fill="none" stroke="#111111" stroke-width="1.75" stroke-linejoin="round" stroke-linecap="round"/>
<path d="M286.2,137.2 C286.73,136.8 288.15,135.5 289.4,134.8 C290.65,134.1 291.78,133.38 293.7,133 C295.62,132.62 298.52,132.63 300.9,132.5 C303.28,132.37 306.1,132.4 308,132.2 C309.9,132 310.98,131.9 312.3,131.3 C313.62,130.7 314.82,129.65 315.9,128.6 C316.98,127.55 317.87,126.77 318.8,125 C319.73,123.23 320.58,120.83 321.5,118 C322.42,115.17 323.5,110.38 324.3,108 C325.1,105.62 325.72,103.87 326.3,103.7 C326.88,103.53 327.4,105.28 327.8,107 C328.2,108.72 328.45,111.5 328.7,114 C328.95,116.5 329.12,119.67 329.3,122 C329.48,124.33 329.55,126.33 329.8,128 C330.05,129.67 330.27,130.97 330.8,132 C331.33,133.03 331.97,133.72 333,134.2 C334.03,134.68 335,134.77 337,134.9 C339,135.03 333.42,135.05 345,135 C356.58,134.95 396.25,134.67 406.5,134.6" fill="none" stroke="#111111" stroke-width="1.75" stroke-linejoin="round" stroke-linecap="round"/>
<path d="M276,151.8 C276.55,151.4 278.02,150.03 279.3,149.4 C280.58,148.77 281.3,148.13 283.7,148 C286.1,147.87 290.6,148.43 293.7,148.6 C296.8,148.77 299.92,149.07 302.3,149 C304.68,148.93 306.45,148.67 308,148.2 C309.55,147.73 310.52,147.08 311.6,146.2 C312.68,145.32 313.53,144.05 314.5,142.9 C315.47,141.75 316.45,140.85 317.4,139.3 C318.35,137.75 319.37,135.57 320.2,133.6 C321.03,131.63 321.72,129.6 322.4,127.5 C323.08,125.4 323.7,122.58 324.3,121 C324.9,119.42 325.47,118 326,118 C326.53,118 327.07,119.17 327.5,121 C327.93,122.83 328.3,126.33 328.6,129 C328.9,131.67 329.08,134.67 329.3,137 C329.52,139.33 329.62,141.37 329.9,143 C330.18,144.63 330.4,145.8 331,146.8 C331.6,147.8 332.33,148.5 333.5,149 C334.67,149.5 336.08,149.63 338,149.8 C339.92,149.97 333.58,149.93 345,150 C356.42,150.07 396.25,150.17 406.5,150.2" fill="none" stroke="#111111" stroke-width="1.75" stroke-linejoin="round" stroke-linecap="round"/>
<path d="M270.7,167.3 C271.08,166.92 272.28,165.6 273,165 C273.72,164.4 273.95,164.03 275,163.7 C276.05,163.37 277.38,163.03 279.3,163 C281.22,162.97 283.62,163.33 286.5,163.5 C289.38,163.67 293.73,164.15 296.6,164 C299.47,163.85 301.55,163.12 303.7,162.6 C305.85,162.08 307.82,161.55 309.5,160.9 C311.18,160.25 312.48,159.9 313.8,158.7 C315.12,157.5 316.33,155.73 317.4,153.7 C318.47,151.67 319.37,148.9 320.2,146.5 C321.03,144.1 321.73,141.38 322.4,139.3 C323.07,137.22 323.62,135.25 324.2,134 C324.78,132.75 325.37,131.72 325.9,131.8 C326.43,131.88 326.95,132.8 327.4,134.5 C327.85,136.2 328.27,139.25 328.6,142 C328.93,144.75 329.17,148.42 329.4,151 C329.63,153.58 329.7,155.7 330,157.5 C330.3,159.3 330.53,160.68 331.2,161.8 C331.87,162.92 332.87,163.68 334,164.2 C335.13,164.72 336.17,164.77 338,164.9 C339.83,165.03 333.58,165 345,165 C356.42,165 396.25,164.92 406.5,164.9" fill="none" stroke="#111111" stroke-width="1.75" stroke-linejoin="round" stroke-linecap="round"/>
<path d="M265.8,182.2 C266.25,181.77 267.42,180.25 268.5,179.6 C269.58,178.95 271.05,178.4 272.3,178.3 C273.55,178.2 274.72,178.55 276,179 C277.28,179.45 278.58,180.47 280,181 C281.42,181.53 282.83,182.1 284.5,182.2 C286.17,182.3 288.08,181.83 290,181.6 C291.92,181.37 293.6,181 296,180.8 C298.4,180.6 302.07,180.8 304.4,180.4 C306.73,180 308.23,179.3 310,178.4 C311.77,177.5 313.6,176.4 315,175 C316.4,173.6 317.4,172.17 318.4,170 C319.4,167.83 320.15,165.08 321,162 C321.85,158.92 322.7,154.07 323.5,151.5 C324.3,148.93 325.15,146.85 325.8,146.6 C326.45,146.35 326.92,148.1 327.4,150 C327.88,151.9 328.33,155.17 328.7,158 C329.07,160.83 329.3,164.5 329.6,167 C329.9,169.5 330.1,171.28 330.5,173 C330.9,174.72 331.25,176.27 332,177.3 C332.75,178.33 333.67,178.78 335,179.2 C336.33,179.62 338.33,179.67 340,179.8 C341.67,179.93 333.92,180.02 345,180 C356.08,179.98 396.25,179.75 406.5,179.7" fill="none" stroke="#111111" stroke-width="1.75" stroke-linejoin="round" stroke-linecap="round"/>
<path d="M256.5,197.3 C256.85,196.92 257.77,195.62 258.6,195 C259.43,194.38 260.05,193.58 261.5,193.6 C262.95,193.62 265.38,194.02 267.3,195.1 C269.22,196.18 271.45,198.55 273,200.1 C274.55,201.65 275.65,203.3 276.6,204.4 C277.55,205.5 277.98,206.73 278.7,206.7 C279.42,206.67 279.93,205.42 280.9,204.2 C281.87,202.98 283.18,200.67 284.5,199.4 C285.82,198.13 287.05,197.25 288.8,196.6 C290.55,195.95 293.13,195.77 295,195.5 C296.87,195.23 297.78,195.42 300,195 C302.22,194.58 305.93,193.82 308.3,193 C310.67,192.18 312.67,191.42 314.2,190.1 C315.73,188.78 316.53,187.05 317.5,185.1 C318.47,183.15 319.25,180.75 320,178.4 C320.75,176.05 321.38,173.07 322,171 C322.62,168.93 323.17,167.03 323.7,166 C324.23,164.97 324.65,164.55 325.2,164.8 C325.75,165.05 326.48,166.13 327,167.5 C327.52,168.87 327.9,170.83 328.3,173 C328.7,175.17 328.88,177.78 329.4,180.5 C329.92,183.22 330.58,187.15 331.4,189.3 C332.22,191.45 332.03,192.43 334.3,193.4 C336.57,194.37 332.97,194.8 345,195.1 C357.03,195.4 396.25,195.18 406.5,195.2" fill="none" stroke="#111111" stroke-width="1.75" stroke-linejoin="round" stroke-linecap="round"/>
<path d="M246.3,212.3 C246.67,211.95 247.17,210.82 248.5,210.2 C249.83,209.58 252.13,208.78 254.3,208.6 C256.47,208.42 259.22,208.43 261.5,209.1 C263.78,209.77 266.2,211.23 268,212.6 C269.8,213.97 271.1,215.68 272.3,217.3 C273.5,218.92 274.37,221.13 275.2,222.3 C276.03,223.47 276.58,224.53 277.3,224.3 C278.02,224.07 278.78,222.42 279.5,220.9 C280.22,219.38 280.53,216.75 281.6,215.2 C282.67,213.65 284.23,212.43 285.9,211.6 C287.57,210.77 289.25,210.57 291.6,210.2 C293.95,209.83 297.87,209.58 300,209.4 C302.13,209.22 302.73,209.53 304.4,209.1 C306.07,208.67 308.23,207.73 310,206.8 C311.77,205.87 313.6,204.88 315,203.5 C316.4,202.12 317.42,200.6 318.4,198.5 C319.38,196.4 320.2,193.28 320.9,190.9 C321.6,188.52 322.02,185.85 322.6,184.2 C323.18,182.55 323.78,181.13 324.4,181 C325.02,180.87 325.7,181.88 326.3,183.4 C326.9,184.92 327.37,187.58 328,190.1 C328.63,192.62 329.4,196.13 330.1,198.5 C330.8,200.87 331.37,202.77 332.2,204.3 C333.03,205.83 332.97,206.85 335.1,207.7 C337.23,208.55 333.1,209.07 345,209.4 C356.9,209.73 396.25,209.65 406.5,209.7" fill="none" stroke="#111111" stroke-width="1.75" stroke-linejoin="round" stroke-linecap="round"/>
<path d="M325.4,62.7 C325.9,62.4 327.4,61.55 328.4,60.9 C329.4,60.25 330.4,59.9 331.4,58.8 C332.4,57.7 333.42,55.95 334.4,54.3 C335.38,52.65 336.32,50.6 337.3,48.9 C338.28,47.2 339.4,45.32 340.3,44.1 C341.2,42.88 342,42.1 342.7,41.6 C343.4,41.1 343.9,40.98 344.5,41.1 C345.1,41.22 345.6,41.3 346.3,42.3 C347,43.3 347.9,45.2 348.7,47.1 C349.5,49 350.4,51.9 351.1,53.7 C351.8,55.5 352.2,56.95 352.9,57.9 C353.6,58.85 354.2,59.07 355.3,59.4 C356.4,59.73 357.05,59.8 359.5,59.9 C361.95,60 362.17,59.98 370,60 C377.83,60.02 400.42,60 406.5,60" fill="none" stroke="#fa0f0f" stroke-width="1.75" stroke-linejoin="round" stroke-linecap="round"/>
<path d="M109,332.2 C109.5,331.92 111,331.2 112,330.5 C113,329.8 113.83,329.42 115,328 C116.17,326.58 117.83,324.5 119,322 C120.17,319.5 121.1,316 122,313 C122.9,310 123.57,306.63 124.4,304 C125.23,301.37 126,298.97 127,297.2 C128,295.43 129.23,293.77 130.4,293.4 C131.57,293.03 132.73,293.9 134,295 C135.27,296.1 136.33,297.92 138,300 C139.67,302.08 141.83,305.08 144,307.5 C146.17,309.92 147.88,312.48 151,314.5 C154.12,316.52 158.93,318.38 162.7,319.6 C166.47,320.82 169.88,321.28 173.6,321.8 C177.32,322.32 181.17,322.5 185,322.7 C188.83,322.9 194.67,322.95 196.6,323" fill="none" stroke="#111111" stroke-width="1.75" stroke-linejoin="round" stroke-linecap="round"/>
<path d="M97,351 C97.83,350.33 100.17,348.67 102,347 C103.83,345.33 106,343.67 108,341 C110,338.33 112.33,334.33 114,331 C115.67,327.67 116.83,324.25 118,321 C119.17,317.75 120.07,313.9 121,311.5 C121.93,309.1 122.6,306.85 123.6,306.6 C124.6,306.35 125.77,308.27 127,310 C128.23,311.73 129.33,314.67 131,317 C132.67,319.33 134.83,322.08 137,324 C139.17,325.92 141.5,327.25 144,328.5 C146.5,329.75 148.5,330.28 152,331.5 C155.5,332.72 160.33,334.47 165,335.8 C169.67,337.13 174.73,338.52 180,339.5 C185.27,340.48 193.83,341.33 196.6,341.7" fill="none" stroke="#111111" stroke-width="1.75" stroke-linejoin="round" stroke-linecap="round"/>
<path d="M91,370 C91.83,369.5 93.83,368.83 96,367 C98.17,365.17 101.67,362 104,359 C106.33,356 108.17,352.33 110,349 C111.83,345.67 113.67,341.83 115,339 C116.33,336.17 117,333.9 118,332 C119,330.1 120,327.77 121,327.6 C122,327.43 122.83,329.27 124,331 C125.17,332.73 126.33,335.67 128,338 C129.67,340.33 131.67,343 134,345 C136.33,347 139.33,348.73 142,350 C144.67,351.27 146.17,351.52 150,352.6 C153.83,353.68 160,355.35 165,356.5 C170,357.65 174.73,358.72 180,359.5 C185.27,360.28 193.83,360.92 196.6,361.2" fill="none" stroke="#111111" stroke-width="1.75" stroke-linejoin="round" stroke-linecap="round"/>
<path d="M86,388.5 C87,387.75 89.67,385.92 92,384 C94.33,382.08 97.5,379.5 100,377 C102.5,374.5 104.83,372 107,369 C109.17,366 111.33,362.17 113,359 C114.67,355.83 115.9,352.07 117,350 C118.1,347.93 118.77,346.77 119.6,346.6 C120.43,346.43 120.93,347.43 122,349 C123.07,350.57 124.33,353.5 126,356 C127.67,358.5 129.67,361.67 132,364 C134.33,366.33 137,368.45 140,370 C143,371.55 145.83,372.13 150,373.3 C154.17,374.47 160,376 165,377 C170,378 174.73,378.73 180,379.3 C185.27,379.87 193.83,380.22 196.6,380.4" fill="none" stroke="#111111" stroke-width="1.75" stroke-linejoin="round" stroke-linecap="round"/>
<path d="M81.9,407.3 C82.25,406.58 83.27,404.43 84,403 C84.73,401.57 85.12,400.45 86.3,398.7 C87.48,396.95 89.35,394.07 91.1,392.5 C92.85,390.93 94.73,390.33 96.8,389.3 C98.87,388.27 101.27,387.6 103.5,386.3 C105.73,385 108.45,382.92 110.2,381.5 C111.95,380.08 113.05,378.6 114,377.8 C114.95,377 115.32,376.53 115.9,376.7 C116.48,376.87 117.02,378 117.5,378.8 C117.98,379.6 117.95,379.78 118.8,381.5 C119.65,383.22 121.17,387.03 122.6,389.1 C124.03,391.17 125.32,392.72 127.4,393.9 C129.48,395.08 131.33,395.52 135.1,396.2 C138.87,396.88 143.35,397.55 150,398 C156.65,398.45 167.23,398.67 175,398.9 C182.77,399.13 193,399.32 196.6,399.4" fill="none" stroke="#fa0f0f" stroke-width="1.75" stroke-linejoin="round" stroke-linecap="round"/>
<path d="M80.5,425.9 C80.83,425.17 81.7,422.85 82.5,421.5 C83.3,420.15 84.03,419.3 85.3,417.8 C86.57,416.3 88.35,413.75 90.1,412.5 C91.85,411.25 93.57,410.85 95.8,410.3 C98.03,409.75 101.27,409.7 103.5,409.2 C105.73,408.7 107.6,408.25 109.2,407.3 C110.8,406.35 112.13,404.28 113.1,403.5 C114.07,402.72 114.43,402.43 115,402.6 C115.57,402.77 116.03,403.72 116.5,404.5 C116.97,405.28 116.93,405.72 117.8,407.3 C118.67,408.88 120.42,412.57 121.7,414 C122.98,415.43 123.27,415.47 125.5,415.9 C127.73,416.33 131.02,416.33 135.1,416.6 C139.18,416.87 143.35,417.25 150,417.5 C156.65,417.75 167.23,417.95 175,418.1 C182.77,418.25 193,418.35 196.6,418.4" fill="none" stroke="#fa0f0f" stroke-width="1.75" stroke-linejoin="round" stroke-linecap="round"/>
<path d="M78.3,443.8 C78.62,443.33 79.58,442.22 80.2,441 C80.82,439.78 81.37,437.95 82,436.5 C82.63,435.05 83.18,433.67 84,432.3 C84.82,430.93 85.88,429.23 86.9,428.3 C87.92,427.37 89.08,426.78 90.1,426.7 C91.12,426.62 92.1,427.32 93,427.8 C93.9,428.28 94.13,428.83 95.5,429.6 C96.87,430.37 98.97,431.6 101.2,432.4 C103.43,433.2 105.63,433.78 108.9,434.4 C112.17,435.02 115.23,435.7 120.8,436.1 C126.37,436.5 134.1,436.6 142.3,436.8 C150.5,437 160.95,437.17 170,437.3 C179.05,437.43 192.17,437.55 196.6,437.6" fill="none" stroke="#111111" stroke-width="1.75" stroke-linejoin="round" stroke-linecap="round"/>
<path d="M74.4,463 C74.75,462.67 75.85,461.78 76.5,461 C77.15,460.22 77.75,459.55 78.3,458.3 C78.85,457.05 79.33,455.1 79.8,453.5 C80.27,451.9 80.55,450.53 81.1,448.7 C81.65,446.87 82.45,443.88 83.1,442.5 C83.75,441.12 84.4,440.83 85,440.4 C85.6,439.97 86.1,439.87 86.7,439.9 C87.3,439.93 87.92,440.22 88.6,440.6 C89.28,440.98 89.63,441.23 90.8,442.2 C91.97,443.17 94.02,445.2 95.6,446.4 C97.18,447.6 98.32,448.52 100.3,449.4 C102.28,450.28 104.9,451.02 107.5,451.7 C110.1,452.38 112.15,453 115.9,453.5 C119.65,454 124.32,454.35 130,454.7 C135.68,455.05 142.5,455.35 150,455.6 C157.5,455.85 167.23,456.05 175,456.2 C182.77,456.35 193,456.45 196.6,456.5" fill="none" stroke="#111111" stroke-width="1.75" stroke-linejoin="round" stroke-linecap="round"/>
<path d="M62.6,481.6 C63.47,480.75 66.15,478.47 67.8,476.5 C69.45,474.53 70.92,472.52 72.5,469.8 C74.08,467.08 76.02,463.08 77.3,460.2 C78.58,457.32 79.25,454.5 80.2,452.5 C81.15,450.5 82.17,448.7 83,448.2 C83.83,447.7 84.5,448.92 85.2,449.5 C85.9,450.08 86.07,450.33 87.2,451.7 C88.33,453.07 90.42,456 92,457.7 C93.58,459.4 95.12,460.9 96.7,461.9 C98.28,462.9 99.3,463 101.5,463.7 C103.7,464.4 106.9,465.2 109.9,466.1 C112.9,467 116.15,468.3 119.5,469.1 C122.85,469.9 126.2,470.32 130,470.9 C133.8,471.48 136.47,472.1 142.3,472.6 C148.13,473.1 155.95,473.6 165,473.9 C174.05,474.2 191.33,474.32 196.6,474.4" fill="none" stroke="#111111" stroke-width="1.75" stroke-linejoin="round" stroke-linecap="round"/>
<path d="M50.5,500.4 C51.47,499.6 54.22,497.2 56.3,495.6 C58.38,494 60.62,492.87 63,490.8 C65.38,488.73 68.53,486.23 70.6,483.2 C72.67,480.17 74.12,475.48 75.4,472.6 C76.68,469.72 77.23,467.48 78.3,465.9 C79.37,464.32 80.85,463.37 81.8,463.1 C82.75,462.83 83.23,463.72 84,464.3 C84.77,464.88 85.57,465.57 86.4,466.6 C87.23,467.63 88.1,469.02 89,470.5 C89.9,471.98 90.88,474.15 91.8,475.5 C92.72,476.85 93.67,477.83 94.5,478.6 C95.33,479.37 95.88,479.67 96.8,480.1 C97.72,480.53 98.88,480.92 100,481.2 C101.12,481.48 102.5,481.58 103.5,481.8 C104.5,482.02 105.17,482.22 106,482.5 C106.83,482.78 106.97,482.92 108.5,483.5 C110.03,484.08 112.4,485.17 115.2,486 C118,486.83 121.17,487.72 125.3,488.5 C129.43,489.28 133.58,489.98 140,490.7 C146.42,491.42 154.37,492.32 163.8,492.8 C173.23,493.28 191.13,493.47 196.6,493.6" fill="none" stroke="#111111" stroke-width="1.75" stroke-linejoin="round" stroke-linecap="round"/>
<path d="M299.5,348.3 C300.18,347.88 302.37,346.9 303.6,345.8 C304.83,344.7 305.93,343.33 306.9,341.7 C307.87,340.07 308.58,338.32 309.4,336 C310.22,333.68 310.98,330.53 311.8,327.8 C312.62,325.07 313.48,321.65 314.3,319.6 C315.12,317.55 315.62,316.58 316.7,315.5 C317.78,314.42 319.43,313.83 320.8,313.1 C322.17,312.37 323.53,311.58 324.9,311.1 C326.27,310.62 327.63,310.15 329,310.2 C330.37,310.25 331.93,311.03 333.1,311.4 C334.27,311.77 335.02,311.77 336,312.4 C336.98,313.03 338.05,314.08 339,315.2 C339.95,316.32 340.78,317.8 341.7,319.1 C342.62,320.4 343.55,321.72 344.5,323 C345.45,324.28 346.32,325.7 347.4,326.8 C348.48,327.9 349.72,328.8 351,329.6 C352.28,330.4 353.27,330.97 355.1,331.6 C356.93,332.23 359.52,332.93 362,333.4 C364.48,333.87 366.17,334.1 370,334.4 C373.83,334.7 379.53,335.03 385,335.2 C390.47,335.37 399.83,335.37 402.8,335.4" fill="none" stroke="#111111" stroke-width="1.75" stroke-linejoin="round" stroke-linecap="round"/>
<path d="M292.7,361.4 C293.43,360.85 295.68,359.47 297.1,358.1 C298.52,356.73 299.97,354.7 301.2,353.2 C302.43,351.7 303.42,351.15 304.5,349.1 C305.58,347.05 306.75,343.63 307.7,340.9 C308.65,338.17 309.38,335.12 310.2,332.7 C311.02,330.28 311.82,327.75 312.6,326.4 C313.38,325.05 314,325.28 314.9,324.6 C315.8,323.92 316.88,322.9 318,322.3 C319.12,321.7 320.27,321.28 321.6,321 C322.93,320.72 324.57,320.6 326,320.6 C327.43,320.6 328.87,320.68 330.2,321 C331.53,321.32 332.73,321.8 334,322.5 C335.27,323.2 336.55,324.07 337.8,325.2 C339.05,326.33 340.22,327.92 341.5,329.3 C342.78,330.68 344.17,332.18 345.5,333.5 C346.83,334.82 348.22,336.08 349.5,337.2 C350.78,338.32 351.78,339.23 353.2,340.2 C354.62,341.17 356.42,342.22 358,343 C359.58,343.78 360.7,344.4 362.7,344.9 C364.7,345.4 366.28,345.55 370,346 C373.72,346.45 379.53,347.25 385,347.6 C390.47,347.95 399.83,348.02 402.8,348.1" fill="none" stroke="#111111" stroke-width="1.75" stroke-linejoin="round" stroke-linecap="round"/>
<path d="M285.6,374.5 C286.57,373.53 289.48,370.62 291.4,368.7 C293.32,366.78 295.33,365.18 297.1,363 C298.87,360.82 300.5,358.05 302,355.6 C303.5,353.15 304.92,350.82 306.1,348.3 C307.28,345.78 308.2,342.3 309.1,340.5 C310,338.7 310.53,338.35 311.5,337.5 C312.47,336.65 313.57,336.02 314.9,335.4 C316.23,334.78 317.92,334.23 319.5,333.8 C321.08,333.37 322.9,332.87 324.4,332.8 C325.9,332.73 327.22,333.1 328.5,333.4 C329.78,333.7 330.85,334 332.1,334.6 C333.35,335.2 334.72,336 336,337 C337.28,338 338.53,339.35 339.8,340.6 C341.07,341.85 342.33,343.28 343.6,344.5 C344.87,345.72 346,346.78 347.4,347.9 C348.8,349.02 350.4,350.23 352,351.2 C353.6,352.17 355.17,352.98 357,353.7 C358.83,354.42 360.83,355.02 363,355.5 C365.17,355.98 366.33,355.82 370,356.6 C373.67,357.38 379.53,359.48 385,360.2 C390.47,360.92 399.83,360.78 402.8,360.9" fill="none" stroke="#111111" stroke-width="1.75" stroke-linejoin="round" stroke-linecap="round"/>
<path d="M278.6,386.7 C279.63,385.62 282.67,382.52 284.8,380.2 C286.93,377.88 289.22,375.4 291.4,372.8 C293.58,370.2 295.87,367.32 297.9,364.6 C299.93,361.88 302.1,358.67 303.6,356.5 C305.1,354.33 305.98,352.58 306.9,351.6 C307.82,350.62 308.12,350.98 309.1,350.6 C310.08,350.22 311.52,349.62 312.8,349.3 C314.08,348.98 315.5,348.78 316.8,348.7 C318.1,348.62 319.33,348.63 320.6,348.8 C321.87,348.97 323.08,349.23 324.4,349.7 C325.72,350.17 326.9,350.63 328.5,351.6 C330.1,352.57 332.28,354.27 334,355.5 C335.72,356.73 337.2,357.88 338.8,359 C340.4,360.12 342,361.15 343.6,362.2 C345.2,363.25 346.8,364.35 348.4,365.3 C350,366.25 351.27,367.12 353.2,367.9 C355.13,368.68 357.2,369.45 360,370 C362.8,370.55 365.83,370.63 370,371.2 C374.17,371.77 379.53,372.93 385,373.4 C390.47,373.87 399.83,373.9 402.8,374" fill="none" stroke="#111111" stroke-width="1.75" stroke-linejoin="round" stroke-linecap="round"/>
<path d="M271.5,399.8 C272.33,398.93 274.68,396.43 276.5,394.6 C278.32,392.77 280.45,390.73 282.4,388.8 C284.35,386.87 286.38,384.93 288.2,383 C290.02,381.07 291.6,379.13 293.3,377.2 C295,375.27 296.83,373.22 298.4,371.4 C299.97,369.58 301.37,367.63 302.7,366.3 C304.03,364.97 305.18,364.13 306.4,363.4 C307.62,362.67 308.82,362.23 310,361.9 C311.18,361.57 312.33,361.52 313.5,361.4 C314.67,361.28 315.82,361.22 317,361.2 C318.18,361.18 319.35,360.97 320.6,361.3 C321.85,361.63 323.22,362.42 324.5,363.2 C325.78,363.98 326.88,364.88 328.3,366 C329.72,367.12 331.42,368.62 333,369.9 C334.58,371.18 336.2,372.62 337.8,373.7 C339.4,374.78 341,375.6 342.6,376.4 C344.2,377.2 345.67,377.87 347.4,378.5 C349.13,379.13 351.08,379.73 353,380.2 C354.92,380.67 356.07,380.87 358.9,381.3 C361.73,381.73 365.65,381.95 370,382.8 C374.35,383.65 379.53,385.7 385,386.4 C390.47,387.1 399.83,386.9 402.8,387" fill="none" stroke="#111111" stroke-width="1.75" stroke-linejoin="round" stroke-linecap="round"/>
<path d="M271.5,412.8 C272.33,411.83 274.68,409.05 276.5,407 C278.32,404.95 280.45,402.57 282.4,400.5 C284.35,398.43 286.27,396.55 288.2,394.6 C290.13,392.65 292.07,390.85 294,388.8 C295.93,386.75 298.1,384 299.8,382.3 C301.5,380.6 302.75,379.45 304.2,378.6 C305.65,377.75 307.13,377.48 308.5,377.2 C309.87,376.92 310.75,377 312.4,376.9 C314.05,376.8 316.88,376.42 318.4,376.6 C319.92,376.78 320.5,377.37 321.5,378 C322.5,378.63 323.43,379.43 324.4,380.4 C325.37,381.37 326.33,382.7 327.3,383.8 C328.27,384.9 328.95,386 330.2,387 C331.45,388 333.2,388.98 334.8,389.8 C336.4,390.62 338.02,391.28 339.8,391.9 C341.58,392.52 343.6,393.03 345.5,393.5 C347.4,393.97 348.78,394.3 351.2,394.7 C353.62,395.1 356.87,395.55 360,395.9 C363.13,396.25 365.83,396.22 370,396.8 C374.17,397.38 379.53,398.82 385,399.4 C390.47,399.98 399.83,400.15 402.8,400.3" fill="none" stroke="#fa0f0f" stroke-width="1.75" stroke-linejoin="round" stroke-linecap="round"/>
<path d="M271.3,425.5 C272.17,424.62 274.63,422.07 276.5,420.2 C278.37,418.33 280.5,416.08 282.5,414.3 C284.5,412.52 286.7,410.78 288.5,409.5 C290.3,408.22 291.5,407.22 293.3,406.6 C295.1,405.98 297.32,406.12 299.3,405.8 C301.28,405.48 303.22,404.68 305.2,404.7 C307.18,404.72 309.2,405.25 311.2,405.9 C313.2,406.55 315,407.73 317.2,408.6 C319.4,409.47 321.6,410.43 324.4,411.1 C327.2,411.77 328.9,412.22 334,412.6 C339.1,412.98 343.53,413.23 355,413.4 C366.47,413.57 394.83,413.57 402.8,413.6" fill="none" stroke="#fa0f0f" stroke-width="1.75" stroke-linejoin="round" stroke-linecap="round"/>
<path d="M270.6,437.5 C271.08,436.83 272.52,434.78 273.5,433.5 C274.48,432.22 275,431.53 276.5,429.8 C278,428.07 280.5,424.9 282.5,423.1 C284.5,421.3 286.5,419.88 288.5,419 C290.5,418.12 292.12,418 294.5,417.8 C296.88,417.6 300.22,417.47 302.8,417.8 C305.38,418.13 307.4,418.92 310,419.8 C312.6,420.68 315.2,422.23 318.4,423.1 C321.6,423.97 323.1,424.52 329.2,425 C335.3,425.48 342.73,425.8 355,426 C367.27,426.2 394.83,426.17 402.8,426.2" fill="none" stroke="#111111" stroke-width="1.75" stroke-linejoin="round" stroke-linecap="round"/>
<path d="M269.8,450 C270.25,449.33 271.58,447.37 272.5,446 C273.42,444.63 274.03,443.7 275.3,441.8 C276.57,439.9 278.1,436.52 280.1,434.6 C282.1,432.68 284.7,431.3 287.3,430.3 C289.9,429.3 292.92,428.68 295.7,428.6 C298.48,428.52 301.22,429 304,429.8 C306.78,430.6 309,432.2 312.4,433.4 C315.8,434.6 319.62,436.08 324.4,437 C329.18,437.92 336,438.57 341.1,438.9 C346.2,439.23 344.72,438.98 355,439 C365.28,439.02 394.83,439 402.8,439" fill="none" stroke="#111111" stroke-width="1.75" stroke-linejoin="round" stroke-linecap="round"/>
<path d="M266.1,470.2 C266.73,469.3 268.75,466.17 269.9,464.8 C271.05,463.43 272,462.83 273,462 C274,461.17 275.07,460.6 275.9,459.8 C276.73,459 277.38,458.5 278,457.2 C278.62,455.9 279.07,453.95 279.6,452 C280.13,450.05 280.53,447.27 281.2,445.5 C281.87,443.73 282.55,442.37 283.6,441.4 C284.65,440.43 286.03,440.05 287.5,439.7 C288.97,439.35 290.82,439.35 292.4,439.3 C293.98,439.25 295.4,439.2 297,439.4 C298.6,439.6 300.37,439.73 302,440.5 C303.63,441.27 304.8,442.23 306.8,444 C308.8,445.77 311.22,449.13 314,451.1 C316.78,453.07 320,454.72 323.5,455.8 C327,456.88 328.92,457.23 335,457.6 C341.08,457.97 348.7,457.92 360,458 C371.3,458.08 395.67,458.08 402.8,458.1" fill="none" stroke="#111111" stroke-width="1.75" stroke-linejoin="round" stroke-linecap="round"/>
<path d="M258.9,483.4 C259.5,482.83 261.3,481 262.5,480 C263.7,479 264.3,478.4 266.1,477.4 C267.9,476.4 271.6,474.98 273.3,474 C275,473.02 275.57,472.5 276.3,471.5 C277.03,470.5 277.33,469.42 277.7,468 C278.07,466.58 278.2,464.92 278.5,463 C278.8,461.08 279.08,458.3 279.5,456.5 C279.92,454.7 280.2,453.35 281,452.2 C281.8,451.05 283.13,450.15 284.3,449.6 C285.47,449.05 286.62,449.05 288,448.9 C289.38,448.75 290.67,448.53 292.6,448.7 C294.53,448.87 297.23,449.1 299.6,449.9 C301.97,450.7 304.4,451.9 306.8,453.5 C309.2,455.1 311.22,457.7 314,459.5 C316.78,461.3 320,463.1 323.5,464.3 C327,465.5 328.92,465.83 335,466.7 C341.08,467.57 348.7,468.83 360,469.5 C371.3,470.17 395.67,470.5 402.8,470.7" fill="none" stroke="#111111" stroke-width="1.75" stroke-linejoin="round" stroke-linecap="round"/>
<path d="M251.7,496.6 C252.25,496.05 253.8,494.3 255,493.3 C256.2,492.3 256.85,491.65 258.9,490.6 C260.95,489.55 264.87,488.33 267.3,487 C269.73,485.67 272.08,483.88 273.5,482.6 C274.92,481.32 275.18,480.65 275.8,479.3 C276.42,477.95 276.82,476.38 277.2,474.5 C277.58,472.62 277.73,469.75 278.1,468 C278.47,466.25 278.83,464.93 279.4,464 C279.97,463.07 280.57,462.83 281.5,462.4 C282.43,461.97 283.75,461.63 285,461.4 C286.25,461.17 287.77,461.1 289,461 C290.23,460.9 290.23,460.63 292.4,460.8 C294.57,460.97 299.2,460.83 302,462 C304.8,463.17 306.62,466.03 309.2,467.8 C311.78,469.57 313.2,471.13 317.5,472.6 C321.8,474.07 327.92,475.2 335,476.6 C342.08,478 348.7,479.8 360,481 C371.3,482.2 395.67,483.33 402.8,483.8" fill="none" stroke="#111111" stroke-width="1.75" stroke-linejoin="round" stroke-linecap="round"/>
<path d="M245.8,506.1 C246.33,505.67 247.82,504.3 249,503.5 C250.18,502.7 250.85,502.25 252.9,501.3 C254.95,500.35 258.78,498.75 261.3,497.8 C263.82,496.85 266.17,496.2 268,495.6 C269.83,495 271.2,494.83 272.3,494.2 C273.4,493.57 273.95,492.92 274.6,491.8 C275.25,490.68 275.75,489.3 276.2,487.5 C276.65,485.7 276.97,482.83 277.3,481 C277.63,479.17 277.77,477.73 278.2,476.5 C278.63,475.27 279.1,474.3 279.9,473.6 C280.7,472.9 281.68,472.62 283,472.3 C284.32,471.98 286.3,471.82 287.8,471.7 C289.3,471.58 290.83,471.52 292,471.6 C293.17,471.68 293.33,471.63 294.8,472.2 C296.27,472.77 298.8,473.53 300.8,475 C302.8,476.47 304.6,479 306.8,481 C309,483 311.22,485.4 314,487 C316.78,488.6 320,489.6 323.5,490.6 C327,491.6 328.92,492.27 335,493 C341.08,493.73 348.7,494.45 360,495 C371.3,495.55 395.67,496.08 402.8,496.3" fill="none" stroke="#111111" stroke-width="1.75" stroke-linejoin="round" stroke-linecap="round"/>
<text x="194.2" y="34.7" font-size="10.5" text-anchor="end">22.5 <tspan font-size="9" dy="-0.9">°</tspan><tspan dy="0.9">C</tspan></text>
<text x="194.2" y="52.1" font-size="10.5" text-anchor="end">22 <tspan font-size="9" dy="-0.9">°</tspan><tspan dy="0.9">C</tspan></text>
<text x="194.2" y="71.7" font-size="10.5" text-anchor="end">21 <tspan font-size="9" dy="-0.9">°</tspan><tspan dy="0.9">C</tspan></text>
<text x="194.2" y="88" font-size="10.5" text-anchor="end">19.5 <tspan font-size="9" dy="-0.9">°</tspan><tspan dy="0.9">C</tspan></text>
<text x="194.2" y="107.1" font-size="10.5" text-anchor="end">19 <tspan font-size="9" dy="-0.9">°</tspan><tspan dy="0.9">C</tspan></text>
<text x="194.2" y="125" font-size="10.5" text-anchor="end">18 <tspan font-size="9" dy="-0.9">°</tspan><tspan dy="0.9">C</tspan></text>
<text x="194.2" y="145.2" font-size="10.5" text-anchor="end">16 <tspan font-size="9" dy="-0.9">°</tspan><tspan dy="0.9">C</tspan></text>
<text x="194.2" y="162.6" font-size="10.5" text-anchor="end">14 <tspan font-size="9" dy="-0.9">°</tspan><tspan dy="0.9">C</tspan></text>
<text x="194.2" y="182.7" font-size="10.5" text-anchor="end">12 <tspan font-size="9" dy="-0.9">°</tspan><tspan dy="0.9">C</tspan></text>
<text x="194.2" y="201.8" font-size="10.5" text-anchor="end">10 <tspan font-size="9" dy="-0.9">°</tspan><tspan dy="0.9">C</tspan></text>
<text x="194.2" y="220.4" font-size="10.5" text-anchor="end">8 <tspan font-size="9" dy="-0.9">°</tspan><tspan dy="0.9">C</tspan></text>
<text x="401.2" y="38.9" font-size="10.5" text-anchor="end">65 <tspan font-size="9" dy="-0.9">°</tspan><tspan dy="0.9">C</tspan></text>
<text x="401.2" y="58" font-size="10.5" text-anchor="end">64 <tspan font-size="9" dy="-0.9">°</tspan><tspan dy="0.9">C</tspan></text>
<text x="401.2" y="70.6" font-size="10.5" text-anchor="end">63 <tspan font-size="9" dy="-0.9">°</tspan><tspan dy="0.9">C</tspan></text>
<text x="401.2" y="86.2" font-size="10.5" text-anchor="end">62 <tspan font-size="9" dy="-0.9">°</tspan><tspan dy="0.9">C</tspan></text>
<text x="401.2" y="102.6" font-size="10.5" text-anchor="end">60 <tspan font-size="9" dy="-0.9">°</tspan><tspan dy="0.9">C</tspan></text>
<text x="401.2" y="117.3" font-size="10.5" text-anchor="end">58 <tspan font-size="9" dy="-0.9">°</tspan><tspan dy="0.9">C</tspan></text>
<text x="401.2" y="132" font-size="10.5" text-anchor="end">56 <tspan font-size="9" dy="-0.9">°</tspan><tspan dy="0.9">C</tspan></text>
<text x="401.2" y="148.3" font-size="10.5" text-anchor="end">54 <tspan font-size="9" dy="-0.9">°</tspan><tspan dy="0.9">C</tspan></text>
<text x="401.2" y="163" font-size="10.5" text-anchor="end">53 <tspan font-size="9" dy="-0.9">°</tspan><tspan dy="0.9">C</tspan></text>
<text x="401.2" y="176.1" font-size="10.5" text-anchor="end">52 <tspan font-size="9" dy="-0.9">°</tspan><tspan dy="0.9">C</tspan></text>
<text x="401.2" y="191.7" font-size="10.5" text-anchor="end">50 <tspan font-size="9" dy="-0.9">°</tspan><tspan dy="0.9">C</tspan></text>
<text x="401.2" y="205.8" font-size="10.5" text-anchor="end">48 <tspan font-size="9" dy="-0.9">°</tspan><tspan dy="0.9">C</tspan></text>
<text x="194.2" y="314.2" font-size="10.5" text-anchor="end">80 <tspan font-size="9" dy="-0.9">°</tspan><tspan dy="0.9">C</tspan></text>
<text x="194.3" y="333.8" font-size="10.5" text-anchor="end">78 <tspan font-size="9" dy="-0.9">°</tspan><tspan dy="0.9">C</tspan></text>
<text x="194.4" y="353.4" font-size="10.5" text-anchor="end">77 <tspan font-size="9" dy="-0.9">°</tspan><tspan dy="0.9">C</tspan></text>
<text x="194.4" y="373.6" font-size="10.5" text-anchor="end">76 <tspan font-size="9" dy="-0.9">°</tspan><tspan dy="0.9">C</tspan></text>
<text x="194.9" y="391.6" font-size="10.5" text-anchor="end">75.4 <tspan font-size="9" dy="-0.9">°</tspan><tspan dy="0.9">C</tspan></text>
<text x="194.6" y="413.8" font-size="10.5" text-anchor="end">75.2 <tspan font-size="9" dy="-0.9">°</tspan><tspan dy="0.9">C</tspan></text>
<text x="195.7" y="431.3" font-size="10.5" text-anchor="end">74.8 <tspan font-size="9" dy="-0.9">°</tspan><tspan dy="0.9">C</tspan></text>
<text x="193.9" y="450.9" font-size="10.5" text-anchor="end">74 <tspan font-size="9" dy="-0.9">°</tspan><tspan dy="0.9">C</tspan></text>
<text x="194.4" y="468.8" font-size="10.5" text-anchor="end">72 <tspan font-size="9" dy="-0.9">°</tspan><tspan dy="0.9">C</tspan></text>
<text x="194.4" y="487.9" font-size="10.5" text-anchor="end">70 <tspan font-size="9" dy="-0.9">°</tspan><tspan dy="0.9">C</tspan></text>
<text x="401.1" y="332.5" font-size="10.5" text-anchor="end">85 <tspan font-size="9" dy="-0.9">°</tspan><tspan dy="0.9">C</tspan></text>
<text x="401.1" y="345.6" font-size="10.5" text-anchor="end">83 <tspan font-size="9" dy="-0.9">°</tspan><tspan dy="0.9">C</tspan></text>
<text x="401.3" y="358.9" font-size="10.5" text-anchor="end">81 <tspan font-size="9" dy="-0.9">°</tspan><tspan dy="0.9">C</tspan></text>
<text x="401.1" y="372" font-size="10.5" text-anchor="end">79 <tspan font-size="9" dy="-0.9">°</tspan><tspan dy="0.9">C</tspan></text>
<text x="401.1" y="385.1" font-size="10.5" text-anchor="end">77 <tspan font-size="9" dy="-0.9">°</tspan><tspan dy="0.9">C</tspan></text>
<text x="401.1" y="397.1" font-size="10.5" text-anchor="end">76.8 <tspan font-size="9" dy="-0.9">°</tspan><tspan dy="0.9">C</tspan></text>
<text x="400.5" y="411.8" font-size="10.5" text-anchor="end">76.6 <tspan font-size="9" dy="-0.9">°</tspan><tspan dy="0.9">C</tspan></text>
<text x="400.5" y="423.7" font-size="10.5" text-anchor="end">76.4 <tspan font-size="9" dy="-0.9">°</tspan><tspan dy="0.9">C</tspan></text>
<text x="400.5" y="436.3" font-size="10.5" text-anchor="end">76.2 <tspan font-size="9" dy="-0.9">°</tspan><tspan dy="0.9">C</tspan></text>
<text x="399.5" y="453.2" font-size="10.5" text-anchor="end">75 <tspan font-size="9" dy="-0.9">°</tspan><tspan dy="0.9">C</tspan></text>
<text x="399.6" y="467.7" font-size="10.5" text-anchor="end">73 <tspan font-size="9" dy="-0.9">°</tspan><tspan dy="0.9">C</tspan></text>
<text x="399.6" y="480.3" font-size="10.5" text-anchor="end">71 <tspan font-size="9" dy="-0.9">°</tspan><tspan dy="0.9">C</tspan></text>
<text x="399.6" y="493.4" font-size="10.5" text-anchor="end">69 <tspan font-size="9" dy="-0.9">°</tspan><tspan dy="0.9">C</tspan></text>
</svg>
</body></html>
